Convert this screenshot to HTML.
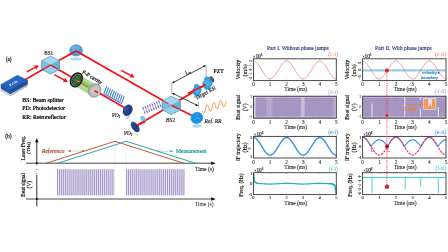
<!DOCTYPE html>
<html><head><meta charset="utf-8"><title>Figure</title>
<style>
html,body{margin:0;padding:0;background:#fff;}
body{width:448px;height:252px;overflow:hidden;}
svg{display:block;}
text{font-family:"Liberation Serif",serif;}
</style></head><body>
<svg width="448" height="252" viewBox="0 0 448 252">
<rect width="448" height="252" fill="#fff"/>
<text x="5.80" y="60.70" font-size="5.2" fill="#111" stroke="#111" stroke-width="0.2" text-anchor="start">(a)</text>
<line x1="25.00" y1="79.80" x2="50.60" y2="65.10" stroke="#f41212" stroke-width="1.7"/>
<line x1="50.60" y1="65.10" x2="76.10" y2="51.10" stroke="#f41212" stroke-width="1.7"/>
<line x1="76.10" y1="51.10" x2="171.30" y2="105.20" stroke="#f41212" stroke-width="1.7"/>
<line x1="50.60" y1="65.10" x2="76.50" y2="80.00" stroke="#f41212" stroke-width="1.7"/>
<line x1="94.50" y1="90.30" x2="125.50" y2="108.30" stroke="#f41212" stroke-width="1.7"/>
<line x1="171.30" y1="105.20" x2="206.50" y2="84.00" stroke="#f41212" stroke-width="1.7"/>
<line x1="171.30" y1="105.20" x2="192.00" y2="115.40" stroke="#f41212" stroke-width="1.7"/>
<line x1="171.30" y1="105.20" x2="136.00" y2="126.00" stroke="#f41212" stroke-width="1.7"/>
<line x1="26.70" y1="71.90" x2="35.63" y2="67.14" stroke="#f41212" stroke-width="1.5"/>
<polygon points="38.90,65.40 36.32,69.49 34.06,65.26" fill="#f41212" stroke="none" stroke-width="0.5"/>
<line x1="54.20" y1="74.70" x2="64.53" y2="80.17" stroke="#f41212" stroke-width="1.5"/>
<polygon points="67.80,81.90 62.97,82.06 65.21,77.81" fill="#f41212" stroke="none" stroke-width="0.5"/>
<line x1="121.10" y1="70.30" x2="131.33" y2="75.68" stroke="#f41212" stroke-width="1.5"/>
<polygon points="134.60,77.40 129.77,77.57 132.00,73.32" fill="#f41212" stroke="none" stroke-width="0.5"/>
<polygon points="0.40,88.60 10.20,94.60 10.20,96.60 0.40,90.80" fill="#cfcfcf" stroke="none" stroke-width="0.5"/>
<polygon points="10.20,94.60 27.60,84.40 27.60,86.40 10.20,96.60" fill="#bdbdbd" stroke="none" stroke-width="0.5"/>
<polygon points="1.00,84.40 17.40,75.20 27.60,80.20 10.20,89.80" fill="#2a65c2" stroke="#1b4c96" stroke-width="0.4"/>
<polygon points="10.20,89.80 27.60,80.20 27.60,84.20 10.20,94.00" fill="#1d4f9e" stroke="#17407e" stroke-width="0.4"/>
<polygon points="1.00,84.40 10.20,89.80 10.20,94.00 1.00,88.40" fill="#2159ad" stroke="#17407e" stroke-width="0.4"/>
<text x="14.00" y="84.00" font-size="2.8" fill="#ffffff" stroke="#ffffff" stroke-width="0.05" text-anchor="middle" font-weight="bold" transform="rotate(-29 14.00 84.00)">E C DL</text>
<polygon points="50.60,56.30 59.40,60.70 59.40,69.50 50.60,73.90 41.80,69.50 41.80,60.70" fill="#6fbfe0" stroke="#3f8db5" stroke-width="0.45"/>
<polygon points="50.60,56.30 59.40,60.70 50.60,65.10 41.80,60.70" fill="#a6d9ef" stroke="none" stroke-width="0.5"/>
<polygon points="50.60,65.10 59.40,69.50 50.60,73.90 41.80,69.50" fill="#93d0ea" stroke="none" stroke-width="0.5"/>
<polygon points="41.80,60.70 50.60,65.10 41.80,69.50" fill="#78c3e2" stroke="none" stroke-width="0.5"/>
<polygon points="59.40,60.70 50.60,65.10 59.40,69.50" fill="#62b6dc" stroke="none" stroke-width="0.5"/>
<polygon points="50.60,56.30 59.40,60.70 59.40,69.50 50.60,73.90 41.80,69.50 41.80,60.70" fill="none" stroke="#3f8db5" stroke-width="0.45"/>
<line x1="41.80" y1="60.70" x2="59.40" y2="69.50" stroke="#8a98a6" stroke-width="0.55"/>
<line x1="59.40" y1="60.70" x2="41.80" y2="69.50" stroke="#8a98a6" stroke-width="0.55"/>
<polygon points="171.30,96.40 180.30,100.90 180.30,109.90 171.30,114.40 162.30,109.90 162.30,100.90" fill="#6fbfe0" stroke="#3f8db5" stroke-width="0.45"/>
<polygon points="171.30,96.40 180.30,100.90 171.30,105.40 162.30,100.90" fill="#a6d9ef" stroke="none" stroke-width="0.5"/>
<polygon points="171.30,105.40 180.30,109.90 171.30,114.40 162.30,109.90" fill="#93d0ea" stroke="none" stroke-width="0.5"/>
<polygon points="162.30,100.90 171.30,105.40 162.30,109.90" fill="#78c3e2" stroke="none" stroke-width="0.5"/>
<polygon points="180.30,100.90 171.30,105.40 180.30,109.90" fill="#62b6dc" stroke="none" stroke-width="0.5"/>
<polygon points="171.30,96.40 180.30,100.90 180.30,109.90 171.30,114.40 162.30,109.90 162.30,100.90" fill="none" stroke="#3f8db5" stroke-width="0.45"/>
<line x1="162.30" y1="100.90" x2="180.30" y2="109.90" stroke="#8a98a6" stroke-width="0.55"/>
<line x1="180.30" y1="100.90" x2="162.30" y2="109.90" stroke="#8a98a6" stroke-width="0.55"/>
<line x1="41.80" y1="70.00" x2="50.60" y2="65.10" stroke="#f41212" stroke-width="1.3"/>
<line x1="50.60" y1="65.10" x2="58.10" y2="69.30" stroke="#f41212" stroke-width="1.3"/>
<line x1="171.30" y1="105.40" x2="179.30" y2="109.20" stroke="#f41212" stroke-width="1.3"/>
<line x1="162.30" y1="100.40" x2="168.30" y2="103.80" stroke="#f41212" stroke-width="1.1" opacity="0.8"/>
<text x="48.70" y="54.60" font-size="5.1" fill="#222" stroke="#222" stroke-width="0.15" text-anchor="middle">BS1</text>
<text x="170.50" y="122.30" font-size="5.3" fill="#222" stroke="#222" stroke-width="0.15" text-anchor="middle">BS2</text>
<ellipse cx="76.1" cy="58.9" rx="5.6" ry="1.5" fill="#b0d8f4"/>
<ellipse cx="76.1" cy="50.4" rx="6.4" ry="5.7" fill="#4b9fe3" stroke="#3378ba" stroke-width="0.45"/>
<ellipse cx="75.4" cy="48.6" rx="4.0" ry="2.8" fill="#72b8ee" opacity="0.6"/>
<line x1="68.00" y1="55.60" x2="76.10" y2="51.10" stroke="#f41212" stroke-width="1.7"/>
<line x1="76.10" y1="51.10" x2="84.00" y2="55.50" stroke="#f41212" stroke-width="1.7"/>
<polygon points="73.52,84.70 91.32,95.30 97.08,85.70 79.28,75.10" fill="#a9db93" stroke="#7bbf63" stroke-width="0.4"/>
<polygon points="75.82,80.86 93.62,91.46 95.64,88.10 77.84,77.50" fill="#8ccc74" stroke="none" stroke-width="0.5"/>
<line x1="76.40" y1="80.20" x2="88.00" y2="87.20" stroke="#e0682c" stroke-width="1.4"/>
<ellipse cx="76.4" cy="79.9" rx="5.4" ry="7.3" fill="#8a8a8a" stroke="#1a1a1a" stroke-width="1.5" transform="rotate(31.0 76.4 79.9)"/>
<ellipse cx="76.7" cy="80.10000000000001" rx="3.9" ry="5.4" fill="#346e34" stroke="#1a1a1a" stroke-width="0.5" transform="rotate(31.0 76.7 80.10000000000001)"/>
<line x1="76.40" y1="80.20" x2="79.90" y2="82.30" stroke="#e0682c" stroke-width="1.2"/>
<ellipse cx="94.60000000000001" cy="90.5" rx="6.1" ry="7.1" fill="#b4b4b4" stroke="#8c8c8c" stroke-width="0.6" transform="rotate(31.0 94.60000000000001 90.5)"/>
<ellipse cx="95.0" cy="90.7" rx="4.2" ry="5.2" fill="#c6c6c6" stroke="none" stroke-width="0.5" transform="rotate(31.0 95.0 90.7)"/>
<line x1="94.50" y1="90.80" x2="98.00" y2="92.60" stroke="#f41212" stroke-width="1.7"/>
<text x="81.80" y="73.20" font-size="5.4" fill="#111" stroke="#111" stroke-width="0.22" text-anchor="start" transform="rotate(30 81.80 73.20)">F-P cavity</text>
<line x1="103.90" y1="93.67" x2="106.70" y2="86.27" stroke="#1c6fd8" stroke-width="1.0"/>
<line x1="105.85" y1="94.77" x2="108.65" y2="87.37" stroke="#1c6fd8" stroke-width="1.0"/>
<line x1="107.80" y1="95.88" x2="110.60" y2="88.48" stroke="#1c6fd8" stroke-width="1.0"/>
<line x1="109.75" y1="96.98" x2="112.55" y2="89.58" stroke="#1c6fd8" stroke-width="1.0"/>
<line x1="111.70" y1="98.08" x2="114.50" y2="90.68" stroke="#1c6fd8" stroke-width="1.0"/>
<line x1="113.65" y1="99.19" x2="116.45" y2="91.79" stroke="#1c6fd8" stroke-width="1.0"/>
<line x1="115.60" y1="100.29" x2="118.40" y2="92.89" stroke="#1c6fd8" stroke-width="1.0"/>
<line x1="117.55" y1="101.39" x2="120.35" y2="93.99" stroke="#1c6fd8" stroke-width="1.0"/>
<line x1="119.50" y1="102.50" x2="122.30" y2="95.10" stroke="#1c6fd8" stroke-width="1.0"/>
<line x1="121.45" y1="103.60" x2="124.25" y2="96.20" stroke="#1c6fd8" stroke-width="1.0"/>
<line x1="103.60" y1="93.67" x2="121.75" y2="103.60" stroke="#1c6fd8" stroke-width="0.8"/>
<ellipse cx="127.9" cy="117.6" rx="3.0" ry="0.9" fill="#c8cfe0" transform="rotate(-25 127.9 117.6)"/>
<ellipse cx="127.7" cy="110.3" rx="4.4" ry="5.8" fill="#243f86" stroke="#1a2d60" stroke-width="0.4" transform="rotate(30 127.7 110.3)"/>
<ellipse cx="126.0" cy="109.0" rx="2.0" ry="2.8" fill="#3a5aa8" opacity="0.6" transform="rotate(30 126 109)"/>
<text x="112.00" y="117.20" font-size="5.3" fill="#222" stroke="#222" stroke-width="0.15" text-anchor="start">PD<tspan font-size="3.2" dy="1">1</tspan></text>
<ellipse cx="136.4" cy="134.6" rx="2.2" ry="0.6" fill="#c8cfe0" transform="rotate(35 136.4 134.6)"/>
<ellipse cx="135.2" cy="127.0" rx="3.1" ry="5.8" fill="#243f86" stroke="#1a2d60" stroke-width="0.4" transform="rotate(-35 135.2 127)"/>
<text x="124.00" y="135.30" font-size="5.3" fill="#222" stroke="#222" stroke-width="0.15" text-anchor="start">PD<tspan font-size="3.2" dy="1">2</tspan></text>
<ellipse cx="143.1" cy="118.9" rx="2.3" ry="3.4" fill="#72c4e8" transform="rotate(-35 143.1 118.9)"/>
<ellipse cx="144.6" cy="123.4" rx="2.2" ry="0.8" fill="#a8d8f0" transform="rotate(-25 144.6 123.4)"/>
<line x1="145.30" y1="121.30" x2="137.00" y2="125.40" stroke="#f41212" stroke-width="1.7"/>
<line x1="142.90" y1="107.40" x2="145.10" y2="113.40" stroke="#b4a8e2" stroke-width="1.05" stroke-linecap="round"/>
<line x1="142.96" y1="107.55" x2="143.40" y2="108.75" stroke="#6f60bd" stroke-width="0.9" stroke-linecap="round"/>
<line x1="145.04" y1="113.25" x2="144.60" y2="112.05" stroke="#6f60bd" stroke-width="0.9" stroke-linecap="round"/>
<line x1="145.16" y1="106.46" x2="147.36" y2="112.46" stroke="#b4a8e2" stroke-width="1.05" stroke-linecap="round"/>
<line x1="145.21" y1="106.61" x2="145.65" y2="107.81" stroke="#6f60bd" stroke-width="0.9" stroke-linecap="round"/>
<line x1="147.30" y1="112.31" x2="146.86" y2="111.11" stroke="#6f60bd" stroke-width="0.9" stroke-linecap="round"/>
<line x1="147.41" y1="105.51" x2="149.61" y2="111.51" stroke="#b4a8e2" stroke-width="1.05" stroke-linecap="round"/>
<line x1="147.47" y1="105.66" x2="147.91" y2="106.86" stroke="#6f60bd" stroke-width="0.9" stroke-linecap="round"/>
<line x1="149.56" y1="111.36" x2="149.12" y2="110.16" stroke="#6f60bd" stroke-width="0.9" stroke-linecap="round"/>
<line x1="149.67" y1="104.57" x2="151.87" y2="110.57" stroke="#b4a8e2" stroke-width="1.05" stroke-linecap="round"/>
<line x1="149.73" y1="104.72" x2="150.17" y2="105.92" stroke="#6f60bd" stroke-width="0.9" stroke-linecap="round"/>
<line x1="151.82" y1="110.42" x2="151.38" y2="109.22" stroke="#6f60bd" stroke-width="0.9" stroke-linecap="round"/>
<line x1="151.93" y1="103.63" x2="154.13" y2="109.63" stroke="#b4a8e2" stroke-width="1.05" stroke-linecap="round"/>
<line x1="151.98" y1="103.78" x2="152.42" y2="104.98" stroke="#6f60bd" stroke-width="0.9" stroke-linecap="round"/>
<line x1="154.07" y1="109.48" x2="153.63" y2="108.28" stroke="#6f60bd" stroke-width="0.9" stroke-linecap="round"/>
<line x1="154.19" y1="102.69" x2="156.39" y2="108.69" stroke="#b4a8e2" stroke-width="1.05" stroke-linecap="round"/>
<line x1="154.24" y1="102.84" x2="154.68" y2="104.04" stroke="#6f60bd" stroke-width="0.9" stroke-linecap="round"/>
<line x1="156.33" y1="108.54" x2="155.89" y2="107.34" stroke="#6f60bd" stroke-width="0.9" stroke-linecap="round"/>
<line x1="156.44" y1="101.74" x2="158.64" y2="107.74" stroke="#b4a8e2" stroke-width="1.05" stroke-linecap="round"/>
<line x1="156.50" y1="101.89" x2="156.94" y2="103.09" stroke="#6f60bd" stroke-width="0.9" stroke-linecap="round"/>
<line x1="158.59" y1="107.59" x2="158.15" y2="106.39" stroke="#6f60bd" stroke-width="0.9" stroke-linecap="round"/>
<line x1="158.70" y1="100.80" x2="160.90" y2="106.80" stroke="#b4a8e2" stroke-width="1.05" stroke-linecap="round"/>
<line x1="158.76" y1="100.95" x2="159.20" y2="102.15" stroke="#6f60bd" stroke-width="0.9" stroke-linecap="round"/>
<line x1="160.84" y1="106.65" x2="160.41" y2="105.45" stroke="#6f60bd" stroke-width="0.9" stroke-linecap="round"/>
<line x1="171.80" y1="83.20" x2="171.80" y2="93.80" stroke="#555" stroke-width="0.45"/>
<line x1="206.10" y1="65.30" x2="206.10" y2="77.50" stroke="#555" stroke-width="0.45"/>
<line x1="188.90" y1="74.20" x2="173.76" y2="82.22" stroke="#111" stroke-width="0.75"/>
<polygon points="171.90,83.20 173.61,80.88 174.78,83.09" fill="#111" stroke="none" stroke-width="0.5"/>
<line x1="188.90" y1="74.20" x2="204.14" y2="66.27" stroke="#111" stroke-width="0.75"/>
<polygon points="206.00,65.30 204.27,67.61 203.12,65.39" fill="#111" stroke="none" stroke-width="0.5"/>
<line x1="185.00" y1="99.40" x2="173.78" y2="93.83" stroke="#111" stroke-width="0.75"/>
<polygon points="171.90,92.90 174.78,92.94 173.67,95.18" fill="#111" stroke="none" stroke-width="0.5"/>
<line x1="185.00" y1="99.40" x2="196.32" y2="104.97" stroke="#111" stroke-width="0.75"/>
<polygon points="198.20,105.90 195.32,105.87 196.42,103.63" fill="#111" stroke="none" stroke-width="0.5"/>
<line x1="198.40" y1="102.00" x2="198.40" y2="107.50" stroke="#555" stroke-width="0.45"/>
<text x="188.60" y="73.60" font-size="5.2" fill="#222" stroke="#222" stroke-width="0.15" text-anchor="middle" transform="rotate(-27 188.60 73.60)">L<tspan font-size="3" dy="0.8">m</tspan></text>
<ellipse cx="211.6" cy="79.4" rx="2.2" ry="3.4" fill="#555" transform="rotate(-30 211.6 79.4)"/>
<ellipse cx="195.40" cy="91.20" rx="3.60" ry="4.60" fill="#2aa0ea" transform="rotate(-30 197.00 90.00)"/>
<ellipse cx="198.30" cy="89.20" rx="3.40" ry="5.00" fill="#2aa0ea" transform="rotate(-30 197.00 90.00)"/>
<ellipse cx="196.80" cy="90.00" rx="2.20" ry="3.00" fill="#6cc0f2" opacity="0.6" transform="rotate(-30 197.00 90.00)"/>
<ellipse cx="205.67" cy="84.30" rx="3.89" ry="4.97" fill="#2aa0ea" transform="rotate(-30 207.40 83.00)"/>
<ellipse cx="208.80" cy="82.14" rx="3.67" ry="5.40" fill="#2aa0ea" transform="rotate(-30 207.40 83.00)"/>
<ellipse cx="207.20" cy="83.00" rx="2.38" ry="3.24" fill="#6cc0f2" opacity="0.6" transform="rotate(-30 207.40 83.00)"/>
<line x1="188.00" y1="93.60" x2="205.80" y2="84.60" stroke="#f41212" stroke-width="1.7"/>
<line x1="190.00" y1="92.60" x2="205.80" y2="84.60" stroke="#d03040" stroke-width="0.6" opacity="0.5"/>
<text x="213.40" y="73.10" font-size="5.3" fill="#222" stroke="#222" stroke-width="0.1" text-anchor="start" font-weight="bold">PZT</text>
<text x="196.20" y="100.00" font-size="5.6" fill="#222" stroke="#222" stroke-width="0.15" text-anchor="start" transform="rotate(-29 196.20 100.00)">Target RR</text>
<ellipse cx="196.9" cy="126.0" rx="4.6" ry="1.7" fill="#a6daf5"/>
<ellipse cx="196.9" cy="117.9" rx="6.2" ry="5.7" fill="#1a8fe0" stroke="#4aa8ea" stroke-width="0.4" transform="rotate(-20 196.9 117.9)"/>
<line x1="196.90" y1="117.90" x2="194.00" y2="120.60" stroke="#7cc4f2" stroke-width="0.45"/>
<line x1="196.90" y1="117.90" x2="200.20" y2="119.20" stroke="#7cc4f2" stroke-width="0.45"/>
<line x1="196.90" y1="117.90" x2="197.60" y2="114.20" stroke="#7cc4f2" stroke-width="0.45"/>
<text x="204.60" y="123.20" font-size="5.5" fill="#222" stroke="#222" stroke-width="0.15" text-anchor="start" font-style="italic">Ref. RR</text>
<polyline points="202.30,110.91 202.45,111.36 202.60,111.78 202.74,112.17 202.89,112.52 203.04,112.81 203.19,113.05 203.34,113.22 203.49,113.33 203.63,113.36 203.78,113.32 203.93,113.21 204.08,113.03 204.23,112.79 204.37,112.47 204.52,112.10 204.67,111.68 204.82,111.20 204.97,110.69 205.11,110.16 205.26,109.60 205.41,109.03 205.56,108.46 205.71,107.90 205.86,107.36 206.00,106.85 206.15,106.38 206.30,105.96 206.45,105.58 206.60,105.27 206.74,105.02 206.89,104.84 207.04,104.72 207.19,104.69 207.34,104.72 207.48,104.82 207.63,104.99 207.78,105.23 207.93,105.52 208.08,105.86 208.23,106.25 208.37,106.68 208.52,107.13 208.67,107.60 208.82,108.07 208.97,108.55 209.11,109.01 209.26,109.45 209.41,109.86 209.56,110.24 209.71,110.56 209.85,110.83 210.00,111.04 210.15,111.18 210.30,111.26 210.45,111.26 210.59,111.19 210.74,111.05 210.89,110.84 211.04,110.57 211.19,110.23 211.34,109.83 211.48,109.39 211.63,108.90 211.78,108.37 211.93,107.83 212.08,107.26 212.22,106.69 212.37,106.13 212.52,105.58 212.67,105.05 212.82,104.55 212.97,104.10 213.11,103.70 213.26,103.35 213.41,103.06 213.56,102.84 213.71,102.69 213.85,102.61 214.00,102.60 214.15,102.66 214.30,102.79 214.45,102.99 214.59,103.25 214.74,103.57 214.89,103.93 215.04,104.34 215.19,104.77 215.34,105.24 215.48,105.71 215.63,106.19 215.78,106.66 215.93,107.11 216.08,107.54 216.22,107.94 216.37,108.29 216.52,108.59 216.67,108.83 216.82,109.02 216.96,109.13 217.11,109.18 217.26,109.15 217.41,109.05 217.56,108.88 217.71,108.64 217.85,108.34 218.00,107.97 218.15,107.55 218.30,107.09 218.45,106.58 218.59,106.05 218.74,105.49 218.89,104.92 219.04,104.36 219.19,103.80 219.33,103.25 219.48,102.74 219.63,102.26 219.78,101.83 219.93,101.45 220.07,101.12 220.22,100.86 220.37,100.67 220.52,100.55 220.67,100.50 220.82,100.52 220.96,100.62 221.11,100.78 221.26,101.01 221.41,101.29 221.56,101.63 221.70,102.01 221.85,102.43 222.00,102.88 222.15,103.35 222.30,103.82 222.44,104.30 222.59,104.76 222.74,105.21 222.89,105.62 223.04,106.00 223.19,106.33 223.33,106.61 223.48,106.83 223.63,106.98 223.78,107.07 223.93,107.08 224.07,107.02 224.22,106.89 224.37,106.69 224.52,106.42 224.67,106.09 224.81,105.70 224.96,105.27 225.11,104.78 225.26,104.26 225.41,103.72 225.56,103.16 225.70,102.59 225.85,102.02 226.00,101.47" fill="none" stroke="#f08c28" stroke-width="0.95" stroke-linejoin="round"/>
<text x="22.30" y="101.70" font-size="5.8" fill="#000" stroke="#000" stroke-width="0.22" text-anchor="start">BS:  Beam splitter</text>
<text x="22.30" y="110.20" font-size="5.8" fill="#000" stroke="#000" stroke-width="0.22" text-anchor="start">PD: Photodetector</text>
<text x="22.30" y="118.70" font-size="5.8" fill="#000" stroke="#000" stroke-width="0.22" text-anchor="start">RR: Retroreflector</text>
<text x="5.20" y="138.30" font-size="5.5" fill="#111" stroke="#111" stroke-width="0.2" text-anchor="start">(b)</text>
<line x1="36.80" y1="141.00" x2="36.80" y2="163.20" stroke="#1a1a1a" stroke-width="0.9"/>
<polygon points="36.80,138.00 35.00,142.20 38.60,142.20" fill="#111" stroke="none" stroke-width="0.5"/>
<line x1="36.80" y1="164.70" x2="36.80" y2="175.00" stroke="#333" stroke-width="0.8" stroke-dasharray="0.8 3.4"/>
<line x1="36.80" y1="175.00" x2="36.80" y2="206.40" stroke="#1a1a1a" stroke-width="0.9"/>
<line x1="26.00" y1="163.20" x2="212.00" y2="163.20" stroke="#333" stroke-width="0.9"/>
<polygon points="215.80,163.20 211.20,161.40 211.20,165.00" fill="#111" stroke="none" stroke-width="0.5"/>
<line x1="26.00" y1="199.00" x2="212.00" y2="199.00" stroke="#333" stroke-width="0.9"/>
<polygon points="215.80,199.00 211.20,197.20 211.20,200.80" fill="#111" stroke="none" stroke-width="0.5"/>
<circle cx="36.8" cy="163.2" r="1.0" fill="#000"/>
<circle cx="36.8" cy="199.0" r="1.0" fill="#000"/>
<line x1="115.00" y1="142.00" x2="115.00" y2="169.00" stroke="#aaa" stroke-width="0.4" stroke-dasharray="0.6 1"/>
<line x1="126.20" y1="142.00" x2="126.20" y2="169.00" stroke="#aaa" stroke-width="0.4" stroke-dasharray="0.6 1"/>
<rect x="57.0" y="169.2" width="57.80" height="26.2" fill="#e7e1ee"/>
<line x1="57.50" y1="169.20" x2="57.50" y2="195.40" stroke="#9688c4" stroke-width="0.85"/>
<line x1="59.55" y1="169.20" x2="59.55" y2="195.40" stroke="#9688c4" stroke-width="0.85"/>
<line x1="61.60" y1="169.20" x2="61.60" y2="195.40" stroke="#9688c4" stroke-width="0.85"/>
<line x1="63.65" y1="169.20" x2="63.65" y2="195.40" stroke="#9688c4" stroke-width="0.85"/>
<line x1="65.70" y1="169.20" x2="65.70" y2="195.40" stroke="#9688c4" stroke-width="0.85"/>
<line x1="67.75" y1="169.20" x2="67.75" y2="195.40" stroke="#9688c4" stroke-width="0.85"/>
<line x1="69.80" y1="169.20" x2="69.80" y2="195.40" stroke="#9688c4" stroke-width="0.85"/>
<line x1="71.85" y1="169.20" x2="71.85" y2="195.40" stroke="#9688c4" stroke-width="0.85"/>
<line x1="73.90" y1="169.20" x2="73.90" y2="195.40" stroke="#9688c4" stroke-width="0.85"/>
<line x1="75.95" y1="169.20" x2="75.95" y2="195.40" stroke="#9688c4" stroke-width="0.85"/>
<line x1="78.00" y1="169.20" x2="78.00" y2="195.40" stroke="#9688c4" stroke-width="0.85"/>
<line x1="80.05" y1="169.20" x2="80.05" y2="195.40" stroke="#9688c4" stroke-width="0.85"/>
<line x1="82.10" y1="169.20" x2="82.10" y2="195.40" stroke="#9688c4" stroke-width="0.85"/>
<line x1="84.15" y1="169.20" x2="84.15" y2="195.40" stroke="#9688c4" stroke-width="0.85"/>
<line x1="86.20" y1="169.20" x2="86.20" y2="195.40" stroke="#9688c4" stroke-width="0.85"/>
<line x1="88.25" y1="169.20" x2="88.25" y2="195.40" stroke="#9688c4" stroke-width="0.85"/>
<line x1="90.30" y1="169.20" x2="90.30" y2="195.40" stroke="#9688c4" stroke-width="0.85"/>
<line x1="92.35" y1="169.20" x2="92.35" y2="195.40" stroke="#9688c4" stroke-width="0.85"/>
<line x1="94.40" y1="169.20" x2="94.40" y2="195.40" stroke="#9688c4" stroke-width="0.85"/>
<line x1="96.45" y1="169.20" x2="96.45" y2="195.40" stroke="#9688c4" stroke-width="0.85"/>
<line x1="98.50" y1="169.20" x2="98.50" y2="195.40" stroke="#9688c4" stroke-width="0.85"/>
<line x1="100.55" y1="169.20" x2="100.55" y2="195.40" stroke="#9688c4" stroke-width="0.85"/>
<line x1="102.60" y1="169.20" x2="102.60" y2="195.40" stroke="#9688c4" stroke-width="0.85"/>
<line x1="104.65" y1="169.20" x2="104.65" y2="195.40" stroke="#9688c4" stroke-width="0.85"/>
<line x1="106.70" y1="169.20" x2="106.70" y2="195.40" stroke="#9688c4" stroke-width="0.85"/>
<line x1="108.75" y1="169.20" x2="108.75" y2="195.40" stroke="#9688c4" stroke-width="0.85"/>
<line x1="110.80" y1="169.20" x2="110.80" y2="195.40" stroke="#9688c4" stroke-width="0.85"/>
<line x1="112.85" y1="169.20" x2="112.85" y2="195.40" stroke="#9688c4" stroke-width="0.85"/>
<rect x="126.0" y="169.2" width="58.60" height="26.2" fill="#e7e1ee"/>
<line x1="126.50" y1="169.20" x2="126.50" y2="195.40" stroke="#9688c4" stroke-width="0.85"/>
<line x1="128.55" y1="169.20" x2="128.55" y2="195.40" stroke="#9688c4" stroke-width="0.85"/>
<line x1="130.60" y1="169.20" x2="130.60" y2="195.40" stroke="#9688c4" stroke-width="0.85"/>
<line x1="132.65" y1="169.20" x2="132.65" y2="195.40" stroke="#9688c4" stroke-width="0.85"/>
<line x1="134.70" y1="169.20" x2="134.70" y2="195.40" stroke="#9688c4" stroke-width="0.85"/>
<line x1="136.75" y1="169.20" x2="136.75" y2="195.40" stroke="#9688c4" stroke-width="0.85"/>
<line x1="138.80" y1="169.20" x2="138.80" y2="195.40" stroke="#9688c4" stroke-width="0.85"/>
<line x1="140.85" y1="169.20" x2="140.85" y2="195.40" stroke="#9688c4" stroke-width="0.85"/>
<line x1="142.90" y1="169.20" x2="142.90" y2="195.40" stroke="#9688c4" stroke-width="0.85"/>
<line x1="144.95" y1="169.20" x2="144.95" y2="195.40" stroke="#9688c4" stroke-width="0.85"/>
<line x1="147.00" y1="169.20" x2="147.00" y2="195.40" stroke="#9688c4" stroke-width="0.85"/>
<line x1="149.05" y1="169.20" x2="149.05" y2="195.40" stroke="#9688c4" stroke-width="0.85"/>
<line x1="151.10" y1="169.20" x2="151.10" y2="195.40" stroke="#9688c4" stroke-width="0.85"/>
<line x1="153.15" y1="169.20" x2="153.15" y2="195.40" stroke="#9688c4" stroke-width="0.85"/>
<line x1="155.20" y1="169.20" x2="155.20" y2="195.40" stroke="#9688c4" stroke-width="0.85"/>
<line x1="157.25" y1="169.20" x2="157.25" y2="195.40" stroke="#9688c4" stroke-width="0.85"/>
<line x1="159.30" y1="169.20" x2="159.30" y2="195.40" stroke="#9688c4" stroke-width="0.85"/>
<line x1="161.35" y1="169.20" x2="161.35" y2="195.40" stroke="#9688c4" stroke-width="0.85"/>
<line x1="163.40" y1="169.20" x2="163.40" y2="195.40" stroke="#9688c4" stroke-width="0.85"/>
<line x1="165.45" y1="169.20" x2="165.45" y2="195.40" stroke="#9688c4" stroke-width="0.85"/>
<line x1="167.50" y1="169.20" x2="167.50" y2="195.40" stroke="#9688c4" stroke-width="0.85"/>
<line x1="169.55" y1="169.20" x2="169.55" y2="195.40" stroke="#9688c4" stroke-width="0.85"/>
<line x1="171.60" y1="169.20" x2="171.60" y2="195.40" stroke="#9688c4" stroke-width="0.85"/>
<line x1="173.65" y1="169.20" x2="173.65" y2="195.40" stroke="#9688c4" stroke-width="0.85"/>
<line x1="175.70" y1="169.20" x2="175.70" y2="195.40" stroke="#9688c4" stroke-width="0.85"/>
<line x1="177.75" y1="169.20" x2="177.75" y2="195.40" stroke="#9688c4" stroke-width="0.85"/>
<line x1="179.80" y1="169.20" x2="179.80" y2="195.40" stroke="#9688c4" stroke-width="0.85"/>
<line x1="181.85" y1="169.20" x2="181.85" y2="195.40" stroke="#9688c4" stroke-width="0.85"/>
<line x1="183.90" y1="169.20" x2="183.90" y2="195.40" stroke="#9688c4" stroke-width="0.85"/>
<polyline points="46.30,163.20 115.00,141.30 183.60,163.20" fill="none" stroke="#bb5a38" stroke-width="1.0" stroke-linejoin="round"/>
<polyline points="57.80,163.20 126.20,141.30 195.40,163.20" fill="none" stroke="#27acac" stroke-width="1.0" stroke-linejoin="round"/>
<text x="41.80" y="152.90" font-size="5.75" fill="#a84e30" stroke="#a84e30" stroke-width="0.2" text-anchor="start" font-style="italic">Reference</text>
<line x1="70.00" y1="151.00" x2="82.60" y2="151.00" stroke="#b8573a" stroke-width="0.5" stroke-dasharray="1 0.7"/>
<polygon points="67.60,151.00 70.60,149.80 70.60,152.20" fill="#b8573a" stroke="none" stroke-width="0.5"/>
<circle cx="83.0" cy="151.0" r="0.9" fill="#b8573a"/>
<text x="176.10" y="153.20" font-size="5.6" fill="#1c9c9c" stroke="#1c9c9c" stroke-width="0.2" text-anchor="start">Measurement</text>
<line x1="158.60" y1="151.30" x2="170.40" y2="151.30" stroke="#2aa6a6" stroke-width="0.5" stroke-dasharray="1 0.7"/>
<polygon points="173.20,151.30 170.20,150.10 170.20,152.50" fill="#2aa6a6" stroke="none" stroke-width="0.5"/>
<circle cx="158.4" cy="151.3" r="0.9" fill="#2aa6a6"/>
<text x="195.00" y="170.80" font-size="5.55" fill="#222" stroke="#222" stroke-width="0.1" text-anchor="start">Time (s)</text>
<text x="194.90" y="206.40" font-size="5.5" fill="#333" stroke="#333" stroke-width="0.05" text-anchor="start">Time (s)</text>
<text x="24.60" y="148.20" font-size="5.4" fill="#111" stroke="#111" stroke-width="0.18" text-anchor="middle" transform="rotate(-90 24.60 148.20)">Laser Freq.</text>
<text x="30.20" y="147.90" font-size="5.0" fill="#111" stroke="#111" stroke-width="0.18" text-anchor="middle" transform="rotate(-90 30.20 147.90)">(THz)</text>
<text x="24.60" y="184.90" font-size="5.3" fill="#111" stroke="#111" stroke-width="0.18" text-anchor="middle" transform="rotate(-90 24.60 184.90)">Beat signal</text>
<text x="30.60" y="184.60" font-size="5.5" fill="#111" stroke="#111" stroke-width="0.18" text-anchor="middle" transform="rotate(-90 30.60 184.60)">(V)</text>
<text x="266.90" y="49.60" font-size="5.55" fill="#22367e" stroke="#22367e" stroke-width="0.14" text-anchor="start">Part I. Without phase jumps</text>
<text x="375.10" y="49.60" font-size="5.55" fill="#22367e" stroke="#22367e" stroke-width="0.14" text-anchor="start">Part II. With phase jumps</text>
<text x="338.00" y="55.90" font-size="5.7" fill="#e88a8a" stroke="#e88a8a" stroke-width="0.05" text-anchor="end">(c-i)</text>
<text x="446.30" y="55.90" font-size="5.7" fill="#e88a8a" stroke="#e88a8a" stroke-width="0.05" text-anchor="end">(c-ii)</text>
<text x="338.00" y="93.50" font-size="5.7" fill="#b3a8da" stroke="#b3a8da" stroke-width="0.05" text-anchor="end">(d-i)</text>
<text x="446.30" y="92.60" font-size="5.7" fill="#b3a8da" stroke="#b3a8da" stroke-width="0.05" text-anchor="end">(d-ii)</text>
<text x="338.00" y="133.60" font-size="5.7" fill="#3d9be9" stroke="#3d9be9" stroke-width="0.05" text-anchor="end">(e-i)</text>
<text x="446.30" y="133.60" font-size="5.7" fill="#3d9be9" stroke="#3d9be9" stroke-width="0.05" text-anchor="end">(e-ii)</text>
<text x="338.00" y="170.50" font-size="5.7" fill="#44cfc8" stroke="#44cfc8" stroke-width="0.05" text-anchor="end">(f-i)</text>
<text x="446.30" y="170.30" font-size="5.7" fill="#44cfc8" stroke="#44cfc8" stroke-width="0.05" text-anchor="end">(f-ii)</text>
<polyline points="253.50,61.05 253.78,61.06 254.05,61.10 254.33,61.16 254.60,61.24 254.88,61.35 255.16,61.49 255.43,61.64 255.71,61.82 255.98,62.02 256.26,62.24 256.54,62.49 256.81,62.75 257.09,63.03 257.36,63.34 257.64,63.66 257.92,63.99 258.19,64.35 258.47,64.72 258.74,65.10 259.02,65.50 259.30,65.91 259.57,66.33 259.85,66.76 260.12,67.20 260.40,67.65 260.68,68.10 260.95,68.56 261.23,69.02 261.50,69.48 261.78,69.95 262.06,70.42 262.33,70.88 262.61,71.34 262.88,71.80 263.16,72.25 263.44,72.70 263.71,73.14 263.99,73.57 264.26,73.99 264.54,74.40 264.82,74.80 265.09,75.18 265.37,75.55 265.64,75.91 265.92,76.24 266.20,76.56 266.47,76.87 266.75,77.15 267.02,77.41 267.30,77.66 267.58,77.88 267.85,78.08 268.13,78.26 268.40,78.41 268.68,78.55 268.96,78.66 269.23,78.74 269.51,78.80 269.78,78.84 270.06,78.85 270.34,78.84 270.61,78.80 270.89,78.74 271.16,78.66 271.44,78.55 271.72,78.41 271.99,78.26 272.27,78.08 272.54,77.88 272.82,77.66 273.10,77.41 273.37,77.15 273.65,76.87 273.92,76.56 274.20,76.24 274.48,75.91 274.75,75.55 275.03,75.18 275.30,74.80 275.58,74.40 275.86,73.99 276.13,73.57 276.41,73.14 276.68,72.70 276.96,72.25 277.24,71.80 277.51,71.34 277.79,70.88 278.06,70.42 278.34,69.95 278.62,69.48 278.89,69.02 279.17,68.56 279.44,68.10 279.72,67.65 280.00,67.20 280.27,66.76 280.55,66.33 280.82,65.91 281.10,65.50 281.38,65.10 281.65,64.72 281.93,64.35 282.20,63.99 282.48,63.66 282.76,63.34 283.03,63.03 283.31,62.75 283.58,62.49 283.86,62.24 284.14,62.02 284.41,61.82 284.69,61.64 284.96,61.49 285.24,61.35 285.52,61.24 285.79,61.16 286.07,61.10 286.34,61.06 286.62,61.05 286.90,61.06 287.17,61.10 287.45,61.16 287.72,61.24 288.00,61.35 288.28,61.49 288.55,61.64 288.83,61.82 289.10,62.02 289.38,62.24 289.66,62.49 289.93,62.75 290.21,63.03 290.48,63.34 290.76,63.66 291.04,63.99 291.31,64.35 291.59,64.72 291.86,65.10 292.14,65.50 292.42,65.91 292.69,66.33 292.97,66.76 293.24,67.20 293.52,67.65 293.80,68.10 294.07,68.56 294.35,69.02 294.62,69.48 294.90,69.95 295.18,70.42 295.45,70.88 295.73,71.34 296.00,71.80 296.28,72.25 296.56,72.70 296.83,73.14 297.11,73.57 297.38,73.99 297.66,74.40 297.94,74.80 298.21,75.18 298.49,75.55 298.76,75.91 299.04,76.24 299.32,76.56 299.59,76.87 299.87,77.15 300.14,77.41 300.42,77.66 300.70,77.88 300.97,78.08 301.25,78.26 301.52,78.41 301.80,78.55 302.08,78.66 302.35,78.74 302.63,78.80 302.90,78.84 303.18,78.85 303.46,78.84 303.73,78.80 304.01,78.74 304.28,78.66 304.56,78.55 304.84,78.41 305.11,78.26 305.39,78.08 305.66,77.88 305.94,77.66 306.22,77.41 306.49,77.15 306.77,76.87 307.04,76.56 307.32,76.24 307.60,75.91 307.87,75.55 308.15,75.18 308.42,74.80 308.70,74.40 308.98,73.99 309.25,73.57 309.53,73.14 309.80,72.70 310.08,72.25 310.36,71.80 310.63,71.34 310.91,70.88 311.18,70.42 311.46,69.95 311.74,69.48 312.01,69.02 312.29,68.56 312.56,68.10 312.84,67.65 313.12,67.20 313.39,66.76 313.67,66.33 313.94,65.91 314.22,65.50 314.50,65.10 314.77,64.72 315.05,64.35 315.32,63.99 315.60,63.66 315.88,63.34 316.15,63.03 316.43,62.75 316.70,62.49 316.98,62.24 317.26,62.02 317.53,61.82 317.81,61.64 318.08,61.49 318.36,61.35 318.64,61.24 318.91,61.16 319.19,61.10 319.46,61.06 319.74,61.05 320.02,61.06 320.29,61.10 320.57,61.16 320.84,61.24 321.12,61.35 321.40,61.49 321.67,61.64 321.95,61.82 322.22,62.02 322.50,62.24 322.78,62.49 323.05,62.75 323.33,63.03 323.60,63.34 323.88,63.66 324.16,63.99 324.43,64.35 324.71,64.72 324.98,65.10 325.26,65.50 325.54,65.91 325.81,66.33 326.09,66.76 326.36,67.20 326.64,67.65 326.92,68.10 327.19,68.56 327.47,69.02 327.74,69.48 328.02,69.95 328.30,70.42 328.57,70.88 328.85,71.34 329.12,71.80 329.40,72.25 329.68,72.70 329.95,73.14 330.23,73.57 330.50,73.99 330.78,74.40 331.06,74.80 331.33,75.18 331.61,75.55 331.88,75.91 332.16,76.24 332.44,76.56 332.71,76.87 332.99,77.15 333.26,77.41 333.54,77.66 333.82,77.88 334.09,78.08 334.37,78.26 334.64,78.41 334.92,78.55 335.20,78.66 335.47,78.74 335.75,78.80 336.02,78.84 336.30,78.85" fill="none" stroke="#e47e7e" stroke-width="0.8" stroke-linejoin="round"/>
<rect x="253.50" y="58.80" width="82.80" height="21.80" fill="none" stroke="#3a3a3a" stroke-width="0.9"/>
<line x1="253.50" y1="80.60" x2="253.50" y2="79.60" stroke="#3a3a3a" stroke-width="0.4"/>
<line x1="253.50" y1="58.80" x2="253.50" y2="59.80" stroke="#3a3a3a" stroke-width="0.4"/>
<line x1="270.06" y1="80.60" x2="270.06" y2="79.60" stroke="#3a3a3a" stroke-width="0.4"/>
<line x1="270.06" y1="58.80" x2="270.06" y2="59.80" stroke="#3a3a3a" stroke-width="0.4"/>
<line x1="286.62" y1="80.60" x2="286.62" y2="79.60" stroke="#3a3a3a" stroke-width="0.4"/>
<line x1="286.62" y1="58.80" x2="286.62" y2="59.80" stroke="#3a3a3a" stroke-width="0.4"/>
<line x1="303.18" y1="80.60" x2="303.18" y2="79.60" stroke="#3a3a3a" stroke-width="0.4"/>
<line x1="303.18" y1="58.80" x2="303.18" y2="59.80" stroke="#3a3a3a" stroke-width="0.4"/>
<line x1="319.74" y1="80.60" x2="319.74" y2="79.60" stroke="#3a3a3a" stroke-width="0.4"/>
<line x1="319.74" y1="58.80" x2="319.74" y2="59.80" stroke="#3a3a3a" stroke-width="0.4"/>
<line x1="336.30" y1="80.60" x2="336.30" y2="79.60" stroke="#3a3a3a" stroke-width="0.4"/>
<line x1="336.30" y1="58.80" x2="336.30" y2="59.80" stroke="#3a3a3a" stroke-width="0.4"/>
<text x="253.50" y="85.60" font-size="5.2" fill="#222" stroke="#222" stroke-width="0.08" text-anchor="middle">0</text>
<text x="270.06" y="85.60" font-size="5.2" fill="#222" stroke="#222" stroke-width="0.08" text-anchor="middle">1</text>
<text x="286.62" y="85.60" font-size="5.2" fill="#222" stroke="#222" stroke-width="0.08" text-anchor="middle">2</text>
<text x="303.18" y="85.60" font-size="5.2" fill="#222" stroke="#222" stroke-width="0.08" text-anchor="middle">3</text>
<text x="319.74" y="85.60" font-size="5.2" fill="#222" stroke="#222" stroke-width="0.08" text-anchor="middle">4</text>
<text x="336.30" y="85.60" font-size="5.2" fill="#222" stroke="#222" stroke-width="0.08" text-anchor="middle">5</text>
<text x="295.70" y="91.20" font-size="5.5" fill="#222" stroke="#222" stroke-width="0.08" text-anchor="middle">Time (ms)</text>
<text x="253.30" y="58.20" font-size="5.3" fill="#222" stroke="#222" stroke-width="0.15" text-anchor="start"><tspan font-size="3.8">×</tspan>10<tspan font-size="3.2" dy="-2.4">5</tspan></text>
<rect x="363.10" y="69.20" width="82.40" height="2.4" fill="#acd7ec"/>
<line x1="363.10" y1="70.40" x2="445.50" y2="70.40" stroke="#4f9fcc" stroke-width="0.6" stroke-dasharray="0.9 0.9"/>
<polyline points="362.60,61.05 362.88,61.06 363.16,61.10 363.43,61.16 363.71,61.24 363.99,61.35 364.27,61.49 364.55,61.64 364.82,61.82 365.10,62.02 365.38,62.24 365.66,62.49 365.94,62.75 366.21,63.03 366.49,63.34 366.77,63.66 367.05,63.99 367.33,64.35 367.60,64.72 367.88,65.10 368.16,65.50 368.44,65.91 368.72,66.33 368.99,66.76 369.27,67.20 369.55,67.65 369.83,68.10 370.11,68.56 370.38,69.02 370.66,69.48 370.94,69.95 371.22,70.42 371.50,70.88 371.77,71.34 372.05,71.80 372.33,72.25 372.61,72.70 372.89,73.14 373.16,73.57 373.44,73.99 373.72,74.40 374.00,74.80 374.28,75.18 374.55,75.55 374.83,75.91 375.11,76.24 375.39,76.56 375.67,76.87 375.94,77.15 376.22,77.41 376.50,77.66 376.78,77.88 377.06,78.08 377.33,78.26 377.61,78.41 377.89,78.55 378.17,78.66 378.45,78.74 378.72,78.80 379.00,78.84 379.28,78.85 379.56,78.84 379.84,78.80 380.11,78.74 380.39,78.66 380.67,78.55 380.95,78.41 381.23,78.26 381.50,78.08 381.78,77.88 382.06,77.66 382.34,77.41 382.62,77.15 382.89,76.87 383.17,76.56 383.45,76.24 383.73,75.91 384.01,75.55 384.28,75.18 384.56,74.80 384.84,74.40 385.12,73.99 385.40,73.57 385.67,73.14 385.95,72.70 386.23,72.25 386.51,71.80 386.79,71.34 387.06,70.88 387.34,70.42 387.62,69.95 387.90,69.48 388.18,69.02 388.45,68.56 388.73,68.10 389.01,67.65 389.29,67.20 389.57,66.76 389.84,66.33 390.12,65.91 390.40,65.50 390.68,65.10 390.96,64.72 391.23,64.35 391.51,63.99 391.79,63.66 392.07,63.34 392.35,63.03 392.62,62.75 392.90,62.49 393.18,62.24 393.46,62.02 393.74,61.82 394.01,61.64 394.29,61.49 394.57,61.35 394.85,61.24 395.13,61.16 395.40,61.10 395.68,61.06 395.96,61.05 396.24,61.06 396.52,61.10 396.79,61.16 397.07,61.24 397.35,61.35 397.63,61.49 397.91,61.64 398.18,61.82 398.46,62.02 398.74,62.24 399.02,62.49 399.30,62.75 399.57,63.03 399.85,63.34 400.13,63.66 400.41,63.99 400.69,64.35 400.96,64.72 401.24,65.10 401.52,65.50 401.80,65.91 402.08,66.33 402.35,66.76 402.63,67.20 402.91,67.65 403.19,68.10 403.47,68.56 403.74,69.02 404.02,69.48 404.30,69.95 404.58,70.42 404.86,70.88 405.13,71.34 405.41,71.80 405.69,72.25 405.97,72.70 406.25,73.14 406.52,73.57 406.80,73.99 407.08,74.40 407.36,74.80 407.64,75.18 407.91,75.55 408.19,75.91 408.47,76.24 408.75,76.56 409.03,76.87 409.30,77.15 409.58,77.41 409.86,77.66 410.14,77.88 410.42,78.08 410.69,78.26 410.97,78.41 411.25,78.55 411.53,78.66 411.81,78.74 412.08,78.80 412.36,78.84 412.64,78.85 412.92,78.84 413.20,78.80 413.47,78.74 413.75,78.66 414.03,78.55 414.31,78.41 414.59,78.26 414.86,78.08 415.14,77.88 415.42,77.66 415.70,77.41 415.98,77.15 416.25,76.87 416.53,76.56 416.81,76.24 417.09,75.91 417.37,75.55 417.64,75.18 417.92,74.80 418.20,74.40 418.48,73.99 418.76,73.57 419.03,73.14 419.31,72.70 419.59,72.25 419.87,71.80 420.15,71.34 420.42,70.88 420.70,70.42 420.98,69.95 421.26,69.48 421.54,69.02 421.81,68.56 422.09,68.10 422.37,67.65 422.65,67.20 422.93,66.76 423.20,66.33 423.48,65.91 423.76,65.50 424.04,65.10 424.32,64.72 424.59,64.35 424.87,63.99 425.15,63.66 425.43,63.34 425.71,63.03 425.98,62.75 426.26,62.49 426.54,62.24 426.82,62.02 427.10,61.82 427.37,61.64 427.65,61.49 427.93,61.35 428.21,61.24 428.49,61.16 428.76,61.10 429.04,61.06 429.32,61.05 429.60,61.06 429.88,61.10 430.15,61.16 430.43,61.24 430.71,61.35 430.99,61.49 431.27,61.64 431.54,61.82 431.82,62.02 432.10,62.24 432.38,62.49 432.66,62.75 432.93,63.03 433.21,63.34 433.49,63.66 433.77,63.99 434.05,64.35 434.32,64.72 434.60,65.10 434.88,65.50 435.16,65.91 435.44,66.33 435.71,66.76 435.99,67.20 436.27,67.65 436.55,68.10 436.83,68.56 437.10,69.02 437.38,69.48 437.66,69.95 437.94,70.42 438.22,70.88 438.49,71.34 438.77,71.80 439.05,72.25 439.33,72.70 439.61,73.14 439.88,73.57 440.16,73.99 440.44,74.40 440.72,74.80 441.00,75.18 441.27,75.55 441.55,75.91 441.83,76.24 442.11,76.56 442.39,76.87 442.66,77.15 442.94,77.41 443.22,77.66 443.50,77.88 443.78,78.08 444.05,78.26 444.33,78.41 444.61,78.55 444.89,78.66 445.17,78.74 445.44,78.80 445.72,78.84 446.00,78.85" fill="none" stroke="#e47e7e" stroke-width="0.8" stroke-linejoin="round"/>
<rect x="362.60" y="58.80" width="83.40" height="21.80" fill="none" stroke="#3a3a3a" stroke-width="0.9"/>
<line x1="362.60" y1="80.60" x2="362.60" y2="79.60" stroke="#3a3a3a" stroke-width="0.4"/>
<line x1="362.60" y1="58.80" x2="362.60" y2="59.80" stroke="#3a3a3a" stroke-width="0.4"/>
<line x1="379.28" y1="80.60" x2="379.28" y2="79.60" stroke="#3a3a3a" stroke-width="0.4"/>
<line x1="379.28" y1="58.80" x2="379.28" y2="59.80" stroke="#3a3a3a" stroke-width="0.4"/>
<line x1="395.96" y1="80.60" x2="395.96" y2="79.60" stroke="#3a3a3a" stroke-width="0.4"/>
<line x1="395.96" y1="58.80" x2="395.96" y2="59.80" stroke="#3a3a3a" stroke-width="0.4"/>
<line x1="412.64" y1="80.60" x2="412.64" y2="79.60" stroke="#3a3a3a" stroke-width="0.4"/>
<line x1="412.64" y1="58.80" x2="412.64" y2="59.80" stroke="#3a3a3a" stroke-width="0.4"/>
<line x1="429.32" y1="80.60" x2="429.32" y2="79.60" stroke="#3a3a3a" stroke-width="0.4"/>
<line x1="429.32" y1="58.80" x2="429.32" y2="59.80" stroke="#3a3a3a" stroke-width="0.4"/>
<line x1="446.00" y1="80.60" x2="446.00" y2="79.60" stroke="#3a3a3a" stroke-width="0.4"/>
<line x1="446.00" y1="58.80" x2="446.00" y2="59.80" stroke="#3a3a3a" stroke-width="0.4"/>
<text x="362.60" y="85.60" font-size="5.2" fill="#222" stroke="#222" stroke-width="0.08" text-anchor="middle">0</text>
<text x="379.28" y="85.60" font-size="5.2" fill="#222" stroke="#222" stroke-width="0.08" text-anchor="middle">1</text>
<text x="395.96" y="85.60" font-size="5.2" fill="#222" stroke="#222" stroke-width="0.08" text-anchor="middle">2</text>
<text x="412.64" y="85.60" font-size="5.2" fill="#222" stroke="#222" stroke-width="0.08" text-anchor="middle">3</text>
<text x="429.32" y="85.60" font-size="5.2" fill="#222" stroke="#222" stroke-width="0.08" text-anchor="middle">4</text>
<text x="446.00" y="85.60" font-size="5.2" fill="#222" stroke="#222" stroke-width="0.08" text-anchor="middle">5</text>
<text x="405.10" y="91.20" font-size="5.5" fill="#222" stroke="#222" stroke-width="0.08" text-anchor="middle">Time (ms)</text>
<text x="362.40" y="58.20" font-size="5.3" fill="#222" stroke="#222" stroke-width="0.15" text-anchor="start"><tspan font-size="3.8">×</tspan>10<tspan font-size="3.2" dy="-2.4">5</tspan></text>
<text x="240.30" y="69.70" font-size="5.9" fill="#222" stroke="#222" stroke-width="0.15" text-anchor="middle" transform="rotate(-90 240.30 69.70)">Velocity</text>
<text x="247.30" y="70.40" font-size="5.8" fill="#222" stroke="#222" stroke-width="0.15" text-anchor="middle" transform="rotate(-90 247.30 70.40)">(m/s)</text>
<text x="349.30" y="69.70" font-size="5.9" fill="#222" stroke="#222" stroke-width="0.15" text-anchor="middle" transform="rotate(-90 349.30 69.70)">Velocity</text>
<text x="356.40" y="70.40" font-size="5.8" fill="#222" stroke="#222" stroke-width="0.15" text-anchor="middle" transform="rotate(-90 356.40 70.40)">(m/s)</text>
<text x="251.80" y="60.95" font-size="3.2" fill="#333" stroke="#333" stroke-width="0.15" text-anchor="middle" transform="rotate(-90 251.80 60.95)">2</text>
<text x="251.80" y="65.25" font-size="3.2" fill="#333" stroke="#333" stroke-width="0.15" text-anchor="middle" transform="rotate(-90 251.80 65.25)">1</text>
<text x="251.80" y="69.55" font-size="3.2" fill="#333" stroke="#333" stroke-width="0.15" text-anchor="middle" transform="rotate(-90 251.80 69.55)">0</text>
<text x="251.80" y="73.85" font-size="3.2" fill="#333" stroke="#333" stroke-width="0.15" text-anchor="middle" transform="rotate(-90 251.80 73.85)">-1</text>
<text x="251.80" y="78.15" font-size="3.2" fill="#333" stroke="#333" stroke-width="0.15" text-anchor="middle" transform="rotate(-90 251.80 78.15)">-2</text>
<text x="361.20" y="62.80" font-size="4.0" fill="#333" stroke="#333" stroke-width="0.15" text-anchor="middle" transform="rotate(-90 361.20 62.80)">5</text>
<text x="361.20" y="69.70" font-size="4.0" fill="#333" stroke="#333" stroke-width="0.15" text-anchor="middle" transform="rotate(-90 361.20 69.70)">0</text>
<text x="361.20" y="77.00" font-size="4.0" fill="#333" stroke="#333" stroke-width="0.15" text-anchor="middle" transform="rotate(-90 361.20 77.00)">-5</text>
<text x="429.50" y="74.40" font-size="4.6" fill="#1f78b4" stroke="#1f78b4" stroke-width="0.15" text-anchor="middle">velocity</text>
<text x="429.50" y="78.60" font-size="4.6" fill="#1f78b4" stroke="#1f78b4" stroke-width="0.15" text-anchor="middle">boundary</text>
<circle cx="438.6" cy="73.0" r="0.9" fill="#1f5fa0"/>
<circle cx="386.9" cy="70.4" r="2.0" fill="#e0202a"/>
<defs><linearGradient id="st" x1="0" x2="1" y1="0" y2="0"><stop offset="0" stop-color="#ffffff" stop-opacity="0"/><stop offset="0.5" stop-color="#ffffff" stop-opacity="0.55"/><stop offset="1" stop-color="#ffffff" stop-opacity="0"/></linearGradient></defs>
<rect x="253.50" y="96.20" width="82.80" height="22.00" fill="#a595c0"/>
<rect x="253.50" y="96.80" width="82.80" height="1.3" fill="#c4b8de" opacity="0.8"/>
<rect x="253.50" y="116.20" width="82.80" height="1.3" fill="#c4b8de" opacity="0.8"/>
<line x1="267.58" y1="96.70" x2="267.58" y2="117.70" stroke="#ffffff" stroke-width="0.5176916901183807" opacity="0.28"/>
<line x1="268.43" y1="96.70" x2="268.43" y2="117.70" stroke="#ffffff" stroke-width="0.5415680154384778" opacity="0.34"/>
<line x1="270.06" y1="96.70" x2="270.06" y2="117.70" stroke="#ffffff" stroke-width="0.32621154369592525" opacity="0.34"/>
<line x1="266.14" y1="96.70" x2="266.14" y2="117.70" stroke="#ffffff" stroke-width="0.634987632838584" opacity="0.19"/>
<line x1="267.72" y1="96.70" x2="267.72" y2="117.70" stroke="#ffffff" stroke-width="0.3937323844186785" opacity="0.29"/>
<line x1="272.43" y1="96.70" x2="272.43" y2="117.70" stroke="#ffffff" stroke-width="0.48810540300897914" opacity="0.18"/>
<line x1="271.41" y1="96.70" x2="271.41" y2="117.70" stroke="#ffffff" stroke-width="0.4905412834797339" opacity="0.25"/>
<line x1="270.15" y1="96.70" x2="270.15" y2="117.70" stroke="#ffffff" stroke-width="0.36024656960940954" opacity="0.34"/>
<line x1="270.12" y1="96.70" x2="270.12" y2="117.70" stroke="#ffffff" stroke-width="0.6472181228573186" opacity="0.34"/>
<line x1="302.53" y1="96.70" x2="302.53" y2="117.70" stroke="#ffffff" stroke-width="0.5965007424805961" opacity="0.39"/>
<line x1="303.48" y1="96.70" x2="303.48" y2="117.70" stroke="#ffffff" stroke-width="0.3256125752907989" opacity="0.32"/>
<line x1="304.03" y1="96.70" x2="304.03" y2="117.70" stroke="#ffffff" stroke-width="0.536439833172527" opacity="0.29"/>
<line x1="301.11" y1="96.70" x2="301.11" y2="117.70" stroke="#ffffff" stroke-width="0.3124047005879" opacity="0.31"/>
<line x1="304.72" y1="96.70" x2="304.72" y2="117.70" stroke="#ffffff" stroke-width="0.48909963546618673" opacity="0.24"/>
<line x1="303.78" y1="96.70" x2="303.78" y2="117.70" stroke="#ffffff" stroke-width="0.6515251201021927" opacity="0.30"/>
<line x1="303.75" y1="96.70" x2="303.75" y2="117.70" stroke="#ffffff" stroke-width="0.6684394670335497" opacity="0.31"/>
<line x1="301.71" y1="96.70" x2="301.71" y2="117.70" stroke="#ffffff" stroke-width="0.6203635083940913" opacity="0.35"/>
<line x1="302.03" y1="96.70" x2="302.03" y2="117.70" stroke="#ffffff" stroke-width="0.6742346886818084" opacity="0.38"/>
<line x1="255.49" y1="96.70" x2="255.49" y2="117.70" stroke="#ffffff" stroke-width="0.3389817238923509" opacity="0.23"/>
<line x1="253.26" y1="96.70" x2="253.26" y2="117.70" stroke="#ffffff" stroke-width="0.3867947764932549" opacity="0.24"/>
<line x1="255.75" y1="96.70" x2="255.75" y2="117.70" stroke="#ffffff" stroke-width="0.4744647466509717" opacity="0.20"/>
<line x1="254.74" y1="96.70" x2="254.74" y2="117.70" stroke="#ffffff" stroke-width="0.42041047937020215" opacity="0.34"/>
<line x1="254.38" y1="96.70" x2="254.38" y2="117.70" stroke="#ffffff" stroke-width="0.454346503537961" opacity="0.40"/>
<line x1="253.91" y1="96.70" x2="253.91" y2="117.70" stroke="#ffffff" stroke-width="0.5340296429621454" opacity="0.33"/>
<line x1="254.61" y1="96.70" x2="254.61" y2="117.70" stroke="#ffffff" stroke-width="0.66168070833911" opacity="0.36"/>
<line x1="254.90" y1="96.70" x2="254.90" y2="117.70" stroke="#ffffff" stroke-width="0.6715782404800068" opacity="0.32"/>
<line x1="255.43" y1="96.70" x2="255.43" y2="117.70" stroke="#ffffff" stroke-width="0.696395857947526" opacity="0.24"/>
<line x1="335.19" y1="96.70" x2="335.19" y2="117.70" stroke="#ffffff" stroke-width="0.36523984878842786" opacity="0.32"/>
<line x1="335.75" y1="96.70" x2="335.75" y2="117.70" stroke="#ffffff" stroke-width="0.6858531789236245" opacity="0.24"/>
<line x1="335.89" y1="96.70" x2="335.89" y2="117.70" stroke="#ffffff" stroke-width="0.5276430013897293" opacity="0.22"/>
<line x1="335.31" y1="96.70" x2="335.31" y2="117.70" stroke="#ffffff" stroke-width="0.3844499934702393" opacity="0.31"/>
<line x1="335.67" y1="96.70" x2="335.67" y2="117.70" stroke="#ffffff" stroke-width="0.5294129409405138" opacity="0.25"/>
<line x1="334.03" y1="96.70" x2="334.03" y2="117.70" stroke="#ffffff" stroke-width="0.3253842308580917" opacity="0.31"/>
<line x1="335.73" y1="96.70" x2="335.73" y2="117.70" stroke="#ffffff" stroke-width="0.6959224059686324" opacity="0.24"/>
<line x1="333.44" y1="96.70" x2="333.44" y2="117.70" stroke="#ffffff" stroke-width="0.6202381285030008" opacity="0.22"/>
<line x1="334.40" y1="96.70" x2="334.40" y2="117.70" stroke="#ffffff" stroke-width="0.3603061497811238" opacity="0.36"/>
<rect x="253.50" y="96.20" width="82.80" height="22.00" fill="none" stroke="#3a3a3a" stroke-width="0.9"/>
<line x1="253.50" y1="118.20" x2="253.50" y2="117.20" stroke="#3a3a3a" stroke-width="0.4"/>
<line x1="253.50" y1="96.20" x2="253.50" y2="97.20" stroke="#3a3a3a" stroke-width="0.4"/>
<line x1="270.06" y1="118.20" x2="270.06" y2="117.20" stroke="#3a3a3a" stroke-width="0.4"/>
<line x1="270.06" y1="96.20" x2="270.06" y2="97.20" stroke="#3a3a3a" stroke-width="0.4"/>
<line x1="286.62" y1="118.20" x2="286.62" y2="117.20" stroke="#3a3a3a" stroke-width="0.4"/>
<line x1="286.62" y1="96.20" x2="286.62" y2="97.20" stroke="#3a3a3a" stroke-width="0.4"/>
<line x1="303.18" y1="118.20" x2="303.18" y2="117.20" stroke="#3a3a3a" stroke-width="0.4"/>
<line x1="303.18" y1="96.20" x2="303.18" y2="97.20" stroke="#3a3a3a" stroke-width="0.4"/>
<line x1="319.74" y1="118.20" x2="319.74" y2="117.20" stroke="#3a3a3a" stroke-width="0.4"/>
<line x1="319.74" y1="96.20" x2="319.74" y2="97.20" stroke="#3a3a3a" stroke-width="0.4"/>
<line x1="336.30" y1="118.20" x2="336.30" y2="117.20" stroke="#3a3a3a" stroke-width="0.4"/>
<line x1="336.30" y1="96.20" x2="336.30" y2="97.20" stroke="#3a3a3a" stroke-width="0.4"/>
<text x="253.50" y="124.00" font-size="5.2" fill="#222" stroke="#222" stroke-width="0.08" text-anchor="middle">0</text>
<text x="270.06" y="124.00" font-size="5.2" fill="#222" stroke="#222" stroke-width="0.08" text-anchor="middle">1</text>
<text x="286.62" y="124.00" font-size="5.2" fill="#222" stroke="#222" stroke-width="0.08" text-anchor="middle">2</text>
<text x="303.18" y="124.00" font-size="5.2" fill="#222" stroke="#222" stroke-width="0.08" text-anchor="middle">3</text>
<text x="319.74" y="124.00" font-size="5.2" fill="#222" stroke="#222" stroke-width="0.08" text-anchor="middle">4</text>
<text x="336.30" y="124.00" font-size="5.2" fill="#222" stroke="#222" stroke-width="0.08" text-anchor="middle">5</text>
<text x="295.70" y="129.20" font-size="5.5" fill="#222" stroke="#222" stroke-width="0.08" text-anchor="middle">Time (ms)</text>
<rect x="362.60" y="96.20" width="83.40" height="22.00" fill="#a595c0"/>
<rect x="362.60" y="96.80" width="83.40" height="1.3" fill="#c4b8de" opacity="0.8"/>
<rect x="362.60" y="116.20" width="83.40" height="1.3" fill="#c4b8de" opacity="0.8"/>
<line x1="372.00" y1="103.50" x2="372.00" y2="117.00" stroke="#f4f0fa" stroke-width="0.9"/>
<line x1="404.80" y1="97.00" x2="404.80" y2="117.00" stroke="#f4f0fa" stroke-width="0.9"/>
<line x1="420.30" y1="97.00" x2="420.30" y2="100.00" stroke="#f4f0fa" stroke-width="0.9"/>
<line x1="420.30" y1="108.50" x2="420.30" y2="117.00" stroke="#f4f0fa" stroke-width="0.9"/>
<line x1="438.30" y1="107.00" x2="438.30" y2="117.00" stroke="#f4f0fa" stroke-width="0.9"/>
<rect x="423.3" y="98.2" width="12.9" height="11.4" fill="#e9e4f2"/>
<rect x="424.1" y="99.0" width="11.3" height="9.8" fill="#f0883a"/>
<line x1="424.90" y1="99.20" x2="424.90" y2="108.60" stroke="#f7b98c" stroke-width="0.35"/>
<line x1="425.65" y1="99.20" x2="425.65" y2="108.60" stroke="#f7b98c" stroke-width="0.35"/>
<line x1="426.40" y1="99.20" x2="426.40" y2="108.60" stroke="#f7b98c" stroke-width="0.35"/>
<line x1="427.15" y1="99.20" x2="427.15" y2="108.60" stroke="#f7b98c" stroke-width="0.35"/>
<line x1="427.90" y1="99.20" x2="427.90" y2="108.60" stroke="#f7b98c" stroke-width="0.35"/>
<line x1="428.65" y1="99.20" x2="428.65" y2="108.60" stroke="#f7b98c" stroke-width="0.35"/>
<line x1="432.20" y1="99.20" x2="432.20" y2="108.60" stroke="#f7b98c" stroke-width="0.35"/>
<line x1="432.95" y1="99.20" x2="432.95" y2="108.60" stroke="#f7b98c" stroke-width="0.35"/>
<line x1="433.70" y1="99.20" x2="433.70" y2="108.60" stroke="#f7b98c" stroke-width="0.35"/>
<line x1="434.45" y1="99.20" x2="434.45" y2="108.60" stroke="#f7b98c" stroke-width="0.35"/>
<line x1="435.20" y1="99.20" x2="435.20" y2="108.60" stroke="#f7b98c" stroke-width="0.35"/>
<polygon points="428.2,99.0 431.9,99.0 431.9,105.5 430.9,108.8 430.1,104.5 429.3,108.8 428.2,105.5" fill="#e6dcee"/>
<polygon points="428.6,108.8 429.5,104.0 430.1,106.5 430.7,104.0 431.6,108.8" fill="#f08a40" opacity="0.8"/>
<line x1="406.00" y1="104.60" x2="421.10" y2="104.60" stroke="#f07a2a" stroke-width="0.7"/>
<polygon points="423.20,104.60 420.60,106.00 420.60,103.20" fill="#f07a2a" stroke="none" stroke-width="0.5"/>
<circle cx="404.8" cy="108.7" r="1.4" fill="none" stroke="#f07a2a" stroke-width="0.7"/>
<text x="407.80" y="111.00" font-size="4.4" fill="#f07a2a" stroke="#f07a2a" stroke-width="0.15" text-anchor="start" font-style="italic" font-weight="bold">PJR</text>
<rect x="362.60" y="96.20" width="83.40" height="22.00" fill="none" stroke="#3a3a3a" stroke-width="0.9"/>
<line x1="362.60" y1="118.20" x2="362.60" y2="117.20" stroke="#3a3a3a" stroke-width="0.4"/>
<line x1="362.60" y1="96.20" x2="362.60" y2="97.20" stroke="#3a3a3a" stroke-width="0.4"/>
<line x1="379.28" y1="118.20" x2="379.28" y2="117.20" stroke="#3a3a3a" stroke-width="0.4"/>
<line x1="379.28" y1="96.20" x2="379.28" y2="97.20" stroke="#3a3a3a" stroke-width="0.4"/>
<line x1="395.96" y1="118.20" x2="395.96" y2="117.20" stroke="#3a3a3a" stroke-width="0.4"/>
<line x1="395.96" y1="96.20" x2="395.96" y2="97.20" stroke="#3a3a3a" stroke-width="0.4"/>
<line x1="412.64" y1="118.20" x2="412.64" y2="117.20" stroke="#3a3a3a" stroke-width="0.4"/>
<line x1="412.64" y1="96.20" x2="412.64" y2="97.20" stroke="#3a3a3a" stroke-width="0.4"/>
<line x1="429.32" y1="118.20" x2="429.32" y2="117.20" stroke="#3a3a3a" stroke-width="0.4"/>
<line x1="429.32" y1="96.20" x2="429.32" y2="97.20" stroke="#3a3a3a" stroke-width="0.4"/>
<line x1="446.00" y1="118.20" x2="446.00" y2="117.20" stroke="#3a3a3a" stroke-width="0.4"/>
<line x1="446.00" y1="96.20" x2="446.00" y2="97.20" stroke="#3a3a3a" stroke-width="0.4"/>
<text x="362.60" y="124.00" font-size="5.2" fill="#222" stroke="#222" stroke-width="0.08" text-anchor="middle">0</text>
<text x="379.28" y="124.00" font-size="5.2" fill="#222" stroke="#222" stroke-width="0.08" text-anchor="middle">1</text>
<text x="395.96" y="124.00" font-size="5.2" fill="#222" stroke="#222" stroke-width="0.08" text-anchor="middle">2</text>
<text x="412.64" y="124.00" font-size="5.2" fill="#222" stroke="#222" stroke-width="0.08" text-anchor="middle">3</text>
<text x="429.32" y="124.00" font-size="5.2" fill="#222" stroke="#222" stroke-width="0.08" text-anchor="middle">4</text>
<text x="446.00" y="124.00" font-size="5.2" fill="#222" stroke="#222" stroke-width="0.08" text-anchor="middle">5</text>
<text x="405.10" y="129.20" font-size="5.5" fill="#222" stroke="#222" stroke-width="0.08" text-anchor="middle">Time (ms)</text>
<text x="240.20" y="107.20" font-size="5.6" fill="#222" stroke="#222" stroke-width="0.15" text-anchor="middle" transform="rotate(-90 240.20 107.20)">Beat signal</text>
<text x="247.00" y="107.20" font-size="5.5" fill="#222" stroke="#222" stroke-width="0.15" text-anchor="middle" transform="rotate(-90 247.00 107.20)">(V)</text>
<text x="251.20" y="98.20" font-size="4.0" fill="#444" stroke="#444" stroke-width="0.05" text-anchor="middle">1</text>
<text x="251.20" y="108.40" font-size="4.0" fill="#444" stroke="#444" stroke-width="0.05" text-anchor="middle">0</text>
<text x="250.60" y="118.40" font-size="4.0" fill="#444" stroke="#444" stroke-width="0.05" text-anchor="middle">-1</text>
<text x="349.30" y="107.20" font-size="5.6" fill="#222" stroke="#222" stroke-width="0.15" text-anchor="middle" transform="rotate(-90 349.30 107.20)">Beat signal</text>
<text x="356.10" y="107.20" font-size="5.5" fill="#222" stroke="#222" stroke-width="0.15" text-anchor="middle" transform="rotate(-90 356.10 107.20)">(V)</text>
<text x="360.30" y="98.20" font-size="4.0" fill="#444" stroke="#444" stroke-width="0.05" text-anchor="middle">1</text>
<text x="360.30" y="108.40" font-size="4.0" fill="#444" stroke="#444" stroke-width="0.05" text-anchor="middle">0</text>
<text x="359.70" y="118.40" font-size="4.0" fill="#444" stroke="#444" stroke-width="0.05" text-anchor="middle">-1</text>
<polyline points="253.50,137.65 253.78,137.66 254.05,137.70 254.33,137.76 254.60,137.84 254.88,137.95 255.16,138.08 255.43,138.23 255.71,138.41 255.98,138.60 256.26,138.82 256.54,139.06 256.81,139.32 257.09,139.60 257.36,139.90 257.64,140.21 257.92,140.55 258.19,140.89 258.47,141.26 258.74,141.63 259.02,142.03 259.30,142.43 259.57,142.84 259.85,143.26 260.12,143.70 260.40,144.14 260.68,144.58 260.95,145.03 261.23,145.49 261.50,145.94 261.78,146.40 262.06,146.86 262.33,147.31 262.61,147.77 262.88,148.22 263.16,148.66 263.44,149.10 263.71,149.54 263.99,149.96 264.26,150.37 264.54,150.78 264.82,151.17 265.09,151.54 265.37,151.91 265.64,152.25 265.92,152.59 266.20,152.90 266.47,153.20 266.75,153.48 267.02,153.74 267.30,153.98 267.58,154.20 267.85,154.39 268.13,154.57 268.40,154.72 268.68,154.85 268.96,154.96 269.23,155.04 269.51,155.10 269.78,155.14 270.06,155.15 270.34,155.14 270.61,155.10 270.89,155.04 271.16,154.96 271.44,154.85 271.72,154.72 271.99,154.57 272.27,154.39 272.54,154.20 272.82,153.98 273.10,153.74 273.37,153.48 273.65,153.20 273.92,152.90 274.20,152.59 274.48,152.25 274.75,151.91 275.03,151.54 275.30,151.17 275.58,150.78 275.86,150.37 276.13,149.96 276.41,149.54 276.68,149.10 276.96,148.66 277.24,148.22 277.51,147.77 277.79,147.31 278.06,146.86 278.34,146.40 278.62,145.94 278.89,145.49 279.17,145.03 279.44,144.58 279.72,144.14 280.00,143.70 280.27,143.26 280.55,142.84 280.82,142.43 281.10,142.03 281.38,141.63 281.65,141.26 281.93,140.89 282.20,140.55 282.48,140.21 282.76,139.90 283.03,139.60 283.31,139.32 283.58,139.06 283.86,138.82 284.14,138.60 284.41,138.41 284.69,138.23 284.96,138.08 285.24,137.95 285.52,137.84 285.79,137.76 286.07,137.70 286.34,137.66 286.62,137.65 286.90,137.66 287.17,137.70 287.45,137.76 287.72,137.84 288.00,137.95 288.28,138.08 288.55,138.23 288.83,138.41 289.10,138.60 289.38,138.82 289.66,139.06 289.93,139.32 290.21,139.60 290.48,139.90 290.76,140.21 291.04,140.55 291.31,140.89 291.59,141.26 291.86,141.63 292.14,142.03 292.42,142.43 292.69,142.84 292.97,143.26 293.24,143.70 293.52,144.14 293.80,144.58 294.07,145.03 294.35,145.49 294.62,145.94 294.90,146.40 295.18,146.86 295.45,147.31 295.73,147.77 296.00,148.22 296.28,148.66 296.56,149.10 296.83,149.54 297.11,149.96 297.38,150.37 297.66,150.78 297.94,151.17 298.21,151.54 298.49,151.91 298.76,152.25 299.04,152.59 299.32,152.90 299.59,153.20 299.87,153.48 300.14,153.74 300.42,153.98 300.70,154.20 300.97,154.39 301.25,154.57 301.52,154.72 301.80,154.85 302.08,154.96 302.35,155.04 302.63,155.10 302.90,155.14 303.18,155.15 303.46,155.14 303.73,155.10 304.01,155.04 304.28,154.96 304.56,154.85 304.84,154.72 305.11,154.57 305.39,154.39 305.66,154.20 305.94,153.98 306.22,153.74 306.49,153.48 306.77,153.20 307.04,152.90 307.32,152.59 307.60,152.25 307.87,151.91 308.15,151.54 308.42,151.17 308.70,150.78 308.98,150.37 309.25,149.96 309.53,149.54 309.80,149.10 310.08,148.66 310.36,148.22 310.63,147.77 310.91,147.31 311.18,146.86 311.46,146.40 311.74,145.94 312.01,145.49 312.29,145.03 312.56,144.58 312.84,144.14 313.12,143.70 313.39,143.26 313.67,142.84 313.94,142.43 314.22,142.03 314.50,141.63 314.77,141.26 315.05,140.89 315.32,140.55 315.60,140.21 315.88,139.90 316.15,139.60 316.43,139.32 316.70,139.06 316.98,138.82 317.26,138.60 317.53,138.41 317.81,138.23 318.08,138.08 318.36,137.95 318.64,137.84 318.91,137.76 319.19,137.70 319.46,137.66 319.74,137.65 320.02,137.66 320.29,137.70 320.57,137.76 320.84,137.84 321.12,137.95 321.40,138.08 321.67,138.23 321.95,138.41 322.22,138.60 322.50,138.82 322.78,139.06 323.05,139.32 323.33,139.60 323.60,139.90 323.88,140.21 324.16,140.55 324.43,140.89 324.71,141.26 324.98,141.63 325.26,142.03 325.54,142.43 325.81,142.84 326.09,143.26 326.36,143.70 326.64,144.14 326.92,144.58 327.19,145.03 327.47,145.49 327.74,145.94 328.02,146.40 328.30,146.86 328.57,147.31 328.85,147.77 329.12,148.22 329.40,148.66 329.68,149.10 329.95,149.54 330.23,149.96 330.50,150.37 330.78,150.78 331.06,151.17 331.33,151.54 331.61,151.91 331.88,152.25 332.16,152.59 332.44,152.90 332.71,153.20 332.99,153.48 333.26,153.74 333.54,153.98 333.82,154.20 334.09,154.39 334.37,154.57 334.64,154.72 334.92,154.85 335.20,154.96 335.47,155.04 335.75,155.10 336.02,155.14 336.30,155.15" fill="none" stroke="#2b8fe6" stroke-width="1.35" stroke-linejoin="round"/>
<rect x="253.50" y="136.40" width="82.80" height="21.60" fill="none" stroke="#3a3a3a" stroke-width="0.9"/>
<line x1="253.50" y1="158.00" x2="253.50" y2="157.00" stroke="#3a3a3a" stroke-width="0.4"/>
<line x1="253.50" y1="136.40" x2="253.50" y2="137.40" stroke="#3a3a3a" stroke-width="0.4"/>
<line x1="270.06" y1="158.00" x2="270.06" y2="157.00" stroke="#3a3a3a" stroke-width="0.4"/>
<line x1="270.06" y1="136.40" x2="270.06" y2="137.40" stroke="#3a3a3a" stroke-width="0.4"/>
<line x1="286.62" y1="158.00" x2="286.62" y2="157.00" stroke="#3a3a3a" stroke-width="0.4"/>
<line x1="286.62" y1="136.40" x2="286.62" y2="137.40" stroke="#3a3a3a" stroke-width="0.4"/>
<line x1="303.18" y1="158.00" x2="303.18" y2="157.00" stroke="#3a3a3a" stroke-width="0.4"/>
<line x1="303.18" y1="136.40" x2="303.18" y2="137.40" stroke="#3a3a3a" stroke-width="0.4"/>
<line x1="319.74" y1="158.00" x2="319.74" y2="157.00" stroke="#3a3a3a" stroke-width="0.4"/>
<line x1="319.74" y1="136.40" x2="319.74" y2="137.40" stroke="#3a3a3a" stroke-width="0.4"/>
<line x1="336.30" y1="158.00" x2="336.30" y2="157.00" stroke="#3a3a3a" stroke-width="0.4"/>
<line x1="336.30" y1="136.40" x2="336.30" y2="137.40" stroke="#3a3a3a" stroke-width="0.4"/>
<text x="253.50" y="163.80" font-size="5.2" fill="#222" stroke="#222" stroke-width="0.08" text-anchor="middle">0</text>
<text x="270.06" y="163.80" font-size="5.2" fill="#222" stroke="#222" stroke-width="0.08" text-anchor="middle">1</text>
<text x="286.62" y="163.80" font-size="5.2" fill="#222" stroke="#222" stroke-width="0.08" text-anchor="middle">2</text>
<text x="303.18" y="163.80" font-size="5.2" fill="#222" stroke="#222" stroke-width="0.08" text-anchor="middle">3</text>
<text x="319.74" y="163.80" font-size="5.2" fill="#222" stroke="#222" stroke-width="0.08" text-anchor="middle">4</text>
<text x="336.30" y="163.80" font-size="5.2" fill="#222" stroke="#222" stroke-width="0.08" text-anchor="middle">5</text>
<text x="295.70" y="168.90" font-size="5.5" fill="#222" stroke="#222" stroke-width="0.08" text-anchor="middle">Time (ms)</text>
<text x="254.30" y="136.00" font-size="5.3" fill="#222" stroke="#222" stroke-width="0.15" text-anchor="start"><tspan font-size="3.8">×</tspan>10<tspan font-size="3.2" dy="-2.4">6</tspan></text>
<polyline points="362.60,137.20 362.77,137.20 362.93,137.22 363.10,137.24 363.27,137.27 363.43,137.31 363.60,137.36 363.77,137.42 363.93,137.49 364.10,137.57 364.27,137.65 364.43,137.74 364.60,137.85 364.77,137.96 364.94,138.08 365.10,138.20 365.27,138.34 365.44,138.48 365.60,138.63 365.77,138.79 365.94,138.96 366.10,139.13 366.27,139.31 366.44,139.50 366.60,139.69 366.77,139.89 366.94,140.10 367.10,140.32 367.27,140.54 367.44,140.76 367.60,140.99 367.77,141.23 367.94,141.47 368.10,141.72 368.27,141.97 368.44,142.22 368.60,142.48 368.77,142.75 368.94,143.01 369.11,143.28 369.27,143.56 369.44,143.83 369.61,144.11 369.77,144.39 369.94,144.68 370.11,144.96 370.27,145.25 370.44,145.53 370.61,145.82 370.77,146.11 370.94,146.40 371.11,146.19 371.27,145.99 371.44,145.78 371.61,145.57 371.77,145.37 371.94,145.16 372.11,144.96 372.27,144.76 372.44,144.56 372.61,144.36 372.77,144.16 372.94,143.97 373.11,143.78 373.28,143.59 373.44,143.40 373.61,143.22 373.78,143.04 373.94,142.86 374.11,142.69 374.28,142.52 374.44,142.35 374.61,142.19 374.78,142.04 374.94,141.88 375.11,141.73 375.28,141.59 375.44,141.45 375.61,141.31 375.78,141.18 375.94,141.06 376.11,140.94 376.28,140.83 376.44,140.72 376.61,140.62 376.78,140.52 376.94,140.43 377.11,140.34 377.28,140.26 377.45,140.19 377.61,140.12 377.78,140.06 377.95,140.01 378.11,139.96 378.28,139.92 378.45,139.88 378.61,139.85 378.78,139.83 378.95,139.81 379.11,139.80 379.28,139.80 379.45,139.80 379.61,139.81 379.78,139.83 379.95,139.85 380.11,139.88 380.28,139.92 380.45,139.96 380.61,140.01 380.78,140.06 380.95,140.12 381.11,140.19 381.28,140.26 381.45,140.34 381.62,140.43 381.78,140.52 381.95,140.62 382.12,140.72 382.28,140.83 382.45,140.94 382.62,141.06 382.78,141.18 382.95,141.31 383.12,141.45 383.28,141.59 383.45,141.73 383.62,141.88 383.78,142.04 383.95,142.19 384.12,142.35 384.28,142.52 384.45,142.69 384.62,142.86 384.78,143.04 384.95,143.22 385.12,143.40 385.28,143.59 385.45,143.78 385.62,143.97 385.79,144.16 385.95,144.36 386.12,144.56 386.29,144.76 386.45,144.96 386.62,145.16 386.79,145.37 386.95,145.57 387.12,145.78 387.29,145.99 387.45,146.19 387.62,146.40 387.79,146.11 387.95,145.82 388.12,145.53 388.29,145.25 388.45,144.96 388.62,144.68 388.79,144.39 388.95,144.11 389.12,143.83 389.29,143.56 389.45,143.28 389.62,143.01 389.79,142.75 389.96,142.48 390.12,142.22 390.29,141.97 390.46,141.72 390.62,141.47 390.79,141.23 390.96,140.99 391.12,140.76 391.29,140.54 391.46,140.32 391.62,140.10 391.79,139.89 391.96,139.69 392.12,139.50 392.29,139.31 392.46,139.13 392.62,138.96 392.79,138.79 392.96,138.63 393.12,138.48 393.29,138.34 393.46,138.20 393.62,138.08 393.79,137.96 393.96,137.85 394.13,137.74 394.29,137.65 394.46,137.57 394.63,137.49 394.79,137.42 394.96,137.36 395.13,137.31 395.29,137.27 395.46,137.24 395.63,137.22 395.79,137.20 395.96,137.20 396.13,137.20 396.29,137.22 396.46,137.24 396.63,137.27 396.79,137.31 396.96,137.36 397.13,137.42 397.29,137.49 397.46,137.57 397.63,137.65 397.79,137.74 397.96,137.85 398.13,137.96 398.30,138.08 398.46,138.20 398.63,138.34 398.80,138.48 398.96,138.63 399.13,138.79 399.30,138.96 399.46,139.13 399.63,139.31 399.80,139.50 399.96,139.69 400.13,139.89 400.30,140.10 400.46,140.32 400.63,140.54 400.80,140.76 400.96,140.99 401.13,141.23 401.30,141.47 401.46,141.72 401.63,141.97 401.80,142.22 401.96,142.48 402.13,142.75 402.30,143.01 402.47,143.28 402.63,143.56 402.80,143.83 402.97,144.11 403.13,144.39 403.30,144.68 403.47,144.96 403.63,145.25 403.80,145.53 403.97,145.82 404.13,146.11 404.30,146.40 404.47,146.19 404.63,145.99 404.80,145.78 404.97,145.57 405.13,145.37 405.30,145.16 405.47,144.96 405.63,144.76 405.80,144.56 405.97,144.36 406.13,144.16 406.30,143.97 406.47,143.78 406.64,143.59 406.80,143.40 406.97,143.22 407.14,143.04 407.30,142.86 407.47,142.69 407.64,142.52 407.80,142.35 407.97,142.19 408.14,142.04 408.30,141.88 408.47,141.73 408.64,141.59 408.80,141.45 408.97,141.31 409.14,141.18 409.30,141.06 409.47,140.94 409.64,140.83 409.80,140.72 409.97,140.62 410.14,140.52 410.30,140.43 410.47,140.34 410.64,140.26 410.81,140.19 410.97,140.12 411.14,140.06 411.31,140.01 411.47,139.96 411.64,139.92 411.81,139.88 411.97,139.85 412.14,139.83 412.31,139.81 412.47,139.80 412.64,139.80 412.81,139.80 412.97,139.81 413.14,139.83 413.31,139.85 413.47,139.88 413.64,139.92 413.81,139.96 413.97,140.01 414.14,140.06 414.31,140.12 414.47,140.19 414.64,140.26 414.81,140.34 414.98,140.43 415.14,140.52 415.31,140.62 415.48,140.72 415.64,140.83 415.81,140.94 415.98,141.06 416.14,141.18 416.31,141.31 416.48,141.45 416.64,141.59 416.81,141.73 416.98,141.88 417.14,142.04 417.31,142.19 417.48,142.35 417.64,142.52 417.81,142.69 417.98,142.86 418.14,143.04 418.31,143.22 418.48,143.40 418.64,143.59 418.81,143.78 418.98,143.97 419.15,144.16 419.31,144.36 419.48,144.56 419.65,144.76 419.81,144.96 419.98,145.16 420.15,145.37 420.31,145.57 420.48,145.78 420.65,145.99 420.81,146.19 420.98,146.40 421.15,146.11 421.31,145.82 421.48,145.53 421.65,145.25 421.81,144.96 421.98,144.68 422.15,144.39 422.31,144.11 422.48,143.83 422.65,143.56 422.81,143.28 422.98,143.01 423.15,142.75 423.32,142.48 423.48,142.22 423.65,141.97 423.82,141.72 423.98,141.47 424.15,141.23 424.32,140.99 424.48,140.76 424.65,140.54 424.82,140.32 424.98,140.10 425.15,139.89 425.32,139.69 425.48,139.50 425.65,139.31 425.82,139.13 425.98,138.96 426.15,138.79 426.32,138.63 426.48,138.48 426.65,138.34 426.82,138.20 426.98,138.08 427.15,137.96 427.32,137.85 427.49,137.74 427.65,137.65 427.82,137.57 427.99,137.49 428.15,137.42 428.32,137.36 428.49,137.31 428.65,137.27 428.82,137.24 428.99,137.22 429.15,137.20 429.32,137.20 429.49,137.20 429.65,137.22 429.82,137.24 429.99,137.27 430.15,137.31 430.32,137.36 430.49,137.42 430.65,137.49 430.82,137.57 430.99,137.65 431.15,137.74 431.32,137.85 431.49,137.96 431.66,138.08 431.82,138.20 431.99,138.34 432.16,138.48 432.32,138.63 432.49,138.79 432.66,138.96 432.82,139.13 432.99,139.31 433.16,139.50 433.32,139.69 433.49,139.89 433.66,140.10 433.82,140.32 433.99,140.54 434.16,140.76 434.32,140.99 434.49,141.23 434.66,141.47 434.82,141.72 434.99,141.97 435.16,142.22 435.32,142.48 435.49,142.75 435.66,143.01 435.83,143.28 435.99,143.56 436.16,143.83 436.33,144.11 436.49,144.39 436.66,144.68 436.83,144.96 436.99,145.25 437.16,145.53 437.33,145.82 437.49,146.11 437.66,146.40 437.83,146.19 437.99,145.99 438.16,145.78 438.33,145.57 438.49,145.37 438.66,145.16 438.83,144.96 438.99,144.76 439.16,144.56 439.33,144.36 439.49,144.16 439.66,143.97 439.83,143.78 440.00,143.59 440.16,143.40 440.33,143.22 440.50,143.04 440.66,142.86 440.83,142.69 441.00,142.52 441.16,142.35 441.33,142.19 441.50,142.04 441.66,141.88 441.83,141.73 442.00,141.59 442.16,141.45 442.33,141.31 442.50,141.18 442.66,141.06 442.83,140.94 443.00,140.83 443.16,140.72 443.33,140.62 443.50,140.52 443.66,140.43 443.83,140.34 444.00,140.26 444.17,140.19 444.33,140.12 444.50,140.06 444.67,140.01 444.83,139.96 445.00,139.92 445.17,139.88 445.33,139.85 445.50,139.83 445.67,139.81 445.83,139.80 446.00,139.80" fill="none" stroke="#3895e8" stroke-width="1.2" stroke-linejoin="round"/>
<polyline points="362.60,137.20 362.77,137.20 362.93,137.22 363.10,137.24 363.27,137.27 363.43,137.31 363.60,137.36 363.77,137.42 363.93,137.49 364.10,137.57 364.27,137.65 364.43,137.74 364.60,137.85 364.77,137.96 364.94,138.08 365.10,138.20 365.27,138.34 365.44,138.48 365.60,138.63 365.77,138.79 365.94,138.96 366.10,139.13 366.27,139.31 366.44,139.50 366.60,139.69 366.77,139.89 366.94,140.10 367.10,140.32 367.27,140.54 367.44,140.76 367.60,140.99 367.77,141.23 367.94,141.47 368.10,141.72 368.27,141.97 368.44,142.22 368.60,142.48 368.77,142.75 368.94,143.01 369.11,143.28 369.27,143.56 369.44,143.83 369.61,144.11 369.77,144.39 369.94,144.68 370.11,144.96 370.27,145.25 370.44,145.53 370.61,145.82 370.77,146.11 370.94,146.40 371.11,146.67 371.27,146.94 371.44,147.21 371.61,147.48 371.77,147.75 371.94,148.01 372.11,148.28 372.27,148.54 372.44,148.80 372.61,149.06 372.77,149.31 372.94,149.57 373.11,149.82 373.28,150.06 373.44,150.30 373.61,150.54 373.78,150.78 373.94,151.01 374.11,151.23 374.28,151.45 374.44,151.67 374.61,151.88 374.78,152.09 374.94,152.29 375.11,152.48 375.28,152.67 375.44,152.85 375.61,153.03 375.78,153.20 375.94,153.36 376.11,153.51 376.28,153.66 376.44,153.80 376.61,153.94 376.78,154.06 376.94,154.18 377.11,154.29 377.28,154.40 377.45,154.49 377.61,154.58 377.78,154.66 377.95,154.73 378.11,154.79 378.28,154.85 378.45,154.89 378.61,154.93 378.78,154.96 378.95,154.98 379.11,155.00 379.28,155.00 379.45,155.00 379.61,154.98 379.78,154.96 379.95,154.93 380.11,154.89 380.28,154.85 380.45,154.79 380.61,154.73 380.78,154.66 380.95,154.58 381.11,154.49 381.28,154.40 381.45,154.29 381.62,154.18 381.78,154.06 381.95,153.94 382.12,153.80 382.28,153.66 382.45,153.51 382.62,153.36 382.78,153.20 382.95,153.03 383.12,152.85 383.28,152.67 383.45,152.48 383.62,152.29 383.78,152.09 383.95,151.88 384.12,151.67 384.28,151.45 384.45,151.23 384.62,151.01 384.78,150.78 384.95,150.54 385.12,150.30 385.28,150.06 385.45,149.82 385.62,149.57 385.79,149.31 385.95,149.06 386.12,148.80 386.29,148.54 386.45,148.28 386.62,148.01 386.79,147.75 386.95,147.48 387.12,147.21 387.29,146.94 387.45,146.67 387.62,146.40 387.79,146.11 387.95,145.82 388.12,145.53 388.29,145.25 388.45,144.96 388.62,144.68 388.79,144.39 388.95,144.11 389.12,143.83 389.29,143.56 389.45,143.28 389.62,143.01 389.79,142.75 389.96,142.48 390.12,142.22 390.29,141.97 390.46,141.72 390.62,141.47 390.79,141.23 390.96,140.99 391.12,140.76 391.29,140.54 391.46,140.32 391.62,140.10 391.79,139.89 391.96,139.69 392.12,139.50 392.29,139.31 392.46,139.13 392.62,138.96 392.79,138.79 392.96,138.63 393.12,138.48 393.29,138.34 393.46,138.20 393.62,138.08 393.79,137.96 393.96,137.85 394.13,137.74 394.29,137.65 394.46,137.57 394.63,137.49 394.79,137.42 394.96,137.36 395.13,137.31 395.29,137.27 395.46,137.24 395.63,137.22 395.79,137.20 395.96,137.20 396.13,137.20 396.29,137.22 396.46,137.24 396.63,137.27 396.79,137.31 396.96,137.36 397.13,137.42 397.29,137.49 397.46,137.57 397.63,137.65 397.79,137.74 397.96,137.85 398.13,137.96 398.30,138.08 398.46,138.20 398.63,138.34 398.80,138.48 398.96,138.63 399.13,138.79 399.30,138.96 399.46,139.13 399.63,139.31 399.80,139.50 399.96,139.69 400.13,139.89 400.30,140.10 400.46,140.32 400.63,140.54 400.80,140.76 400.96,140.99 401.13,141.23 401.30,141.47 401.46,141.72 401.63,141.97 401.80,142.22 401.96,142.48 402.13,142.75 402.30,143.01 402.47,143.28 402.63,143.56 402.80,143.83 402.97,144.11 403.13,144.39 403.30,144.68 403.47,144.96 403.63,145.25 403.80,145.53 403.97,145.82 404.13,146.11 404.30,146.40 404.47,146.67 404.63,146.94 404.80,147.21 404.97,147.48 405.13,147.75 405.30,148.01 405.47,148.28 405.63,148.54 405.80,148.80 405.97,149.06 406.13,149.31 406.30,149.57 406.47,149.82 406.64,150.06 406.80,150.30 406.97,150.54 407.14,150.78 407.30,151.01 407.47,151.23 407.64,151.45 407.80,151.67 407.97,151.88 408.14,152.09 408.30,152.29 408.47,152.48 408.64,152.67 408.80,152.85 408.97,153.03 409.14,153.20 409.30,153.36 409.47,153.51 409.64,153.66 409.80,153.80 409.97,153.94 410.14,154.06 410.30,154.18 410.47,154.29 410.64,154.40 410.81,154.49 410.97,154.58 411.14,154.66 411.31,154.73 411.47,154.79 411.64,154.85 411.81,154.89 411.97,154.93 412.14,154.96 412.31,154.98 412.47,155.00 412.64,155.00 412.81,155.00 412.97,154.98 413.14,154.96 413.31,154.93 413.47,154.89 413.64,154.85 413.81,154.79 413.97,154.73 414.14,154.66 414.31,154.58 414.47,154.49 414.64,154.40 414.81,154.29 414.98,154.18 415.14,154.06 415.31,153.94 415.48,153.80 415.64,153.66 415.81,153.51 415.98,153.36 416.14,153.20 416.31,153.03 416.48,152.85 416.64,152.67 416.81,152.48 416.98,152.29 417.14,152.09 417.31,151.88 417.48,151.67 417.64,151.45 417.81,151.23 417.98,151.01 418.14,150.78 418.31,150.54 418.48,150.30 418.64,150.06 418.81,149.82 418.98,149.57 419.15,149.31 419.31,149.06 419.48,148.80 419.65,148.54 419.81,148.28 419.98,148.01 420.15,147.75 420.31,147.48 420.48,147.21 420.65,146.94 420.81,146.67 420.98,146.40 421.15,146.11 421.31,145.82 421.48,145.53 421.65,145.25 421.81,144.96 421.98,144.68 422.15,144.39 422.31,144.11 422.48,143.83 422.65,143.56 422.81,143.28 422.98,143.01 423.15,142.75 423.32,142.48 423.48,142.22 423.65,141.97 423.82,141.72 423.98,141.47 424.15,141.23 424.32,140.99 424.48,140.76 424.65,140.54 424.82,140.32 424.98,140.10 425.15,139.89 425.32,139.69 425.48,139.50 425.65,139.31 425.82,139.13 425.98,138.96 426.15,138.79 426.32,138.63 426.48,138.48 426.65,138.34 426.82,138.20 426.98,138.08 427.15,137.96 427.32,137.85 427.49,137.74 427.65,137.65 427.82,137.57 427.99,137.49 428.15,137.42 428.32,137.36 428.49,137.31 428.65,137.27 428.82,137.24 428.99,137.22 429.15,137.20 429.32,137.20 429.49,137.20 429.65,137.22 429.82,137.24 429.99,137.27 430.15,137.31 430.32,137.36 430.49,137.42 430.65,137.49 430.82,137.57 430.99,137.65 431.15,137.74 431.32,137.85 431.49,137.96 431.66,138.08 431.82,138.20 431.99,138.34 432.16,138.48 432.32,138.63 432.49,138.79 432.66,138.96 432.82,139.13 432.99,139.31 433.16,139.50 433.32,139.69 433.49,139.89 433.66,140.10 433.82,140.32 433.99,140.54 434.16,140.76 434.32,140.99 434.49,141.23 434.66,141.47 434.82,141.72 434.99,141.97 435.16,142.22 435.32,142.48 435.49,142.75 435.66,143.01 435.83,143.28 435.99,143.56 436.16,143.83 436.33,144.11 436.49,144.39 436.66,144.68 436.83,144.96 436.99,145.25 437.16,145.53 437.33,145.82 437.49,146.11 437.66,146.40 437.83,146.67 437.99,146.94 438.16,147.21 438.33,147.48 438.49,147.75 438.66,148.01 438.83,148.28 438.99,148.54 439.16,148.80 439.33,149.06 439.49,149.31 439.66,149.57 439.83,149.82 440.00,150.06 440.16,150.30 440.33,150.54 440.50,150.78 440.66,151.01 440.83,151.23 441.00,151.45 441.16,151.67 441.33,151.88 441.50,152.09 441.66,152.29 441.83,152.48 442.00,152.67 442.16,152.85 442.33,153.03 442.50,153.20 442.66,153.36 442.83,153.51 443.00,153.66 443.16,153.80 443.33,153.94 443.50,154.06 443.66,154.18 443.83,154.29 444.00,154.40 444.17,154.49 444.33,154.58 444.50,154.66 444.67,154.73 444.83,154.79 445.00,154.85 445.17,154.89 445.33,154.93 445.50,154.96 445.67,154.98 445.83,155.00 446.00,155.00" fill="none" stroke="#ea2f6c" stroke-width="1.2" stroke-linejoin="round" stroke-dasharray="2.4 1.0"/>
<rect x="362.60" y="136.40" width="83.40" height="21.60" fill="none" stroke="#3a3a3a" stroke-width="0.9"/>
<line x1="362.60" y1="158.00" x2="362.60" y2="157.00" stroke="#3a3a3a" stroke-width="0.4"/>
<line x1="362.60" y1="136.40" x2="362.60" y2="137.40" stroke="#3a3a3a" stroke-width="0.4"/>
<line x1="379.28" y1="158.00" x2="379.28" y2="157.00" stroke="#3a3a3a" stroke-width="0.4"/>
<line x1="379.28" y1="136.40" x2="379.28" y2="137.40" stroke="#3a3a3a" stroke-width="0.4"/>
<line x1="395.96" y1="158.00" x2="395.96" y2="157.00" stroke="#3a3a3a" stroke-width="0.4"/>
<line x1="395.96" y1="136.40" x2="395.96" y2="137.40" stroke="#3a3a3a" stroke-width="0.4"/>
<line x1="412.64" y1="158.00" x2="412.64" y2="157.00" stroke="#3a3a3a" stroke-width="0.4"/>
<line x1="412.64" y1="136.40" x2="412.64" y2="137.40" stroke="#3a3a3a" stroke-width="0.4"/>
<line x1="429.32" y1="158.00" x2="429.32" y2="157.00" stroke="#3a3a3a" stroke-width="0.4"/>
<line x1="429.32" y1="136.40" x2="429.32" y2="137.40" stroke="#3a3a3a" stroke-width="0.4"/>
<line x1="446.00" y1="158.00" x2="446.00" y2="157.00" stroke="#3a3a3a" stroke-width="0.4"/>
<line x1="446.00" y1="136.40" x2="446.00" y2="137.40" stroke="#3a3a3a" stroke-width="0.4"/>
<text x="362.60" y="163.80" font-size="5.2" fill="#222" stroke="#222" stroke-width="0.08" text-anchor="middle">0</text>
<text x="379.28" y="163.80" font-size="5.2" fill="#222" stroke="#222" stroke-width="0.08" text-anchor="middle">1</text>
<text x="395.96" y="163.80" font-size="5.2" fill="#222" stroke="#222" stroke-width="0.08" text-anchor="middle">2</text>
<text x="412.64" y="163.80" font-size="5.2" fill="#222" stroke="#222" stroke-width="0.08" text-anchor="middle">3</text>
<text x="429.32" y="163.80" font-size="5.2" fill="#222" stroke="#222" stroke-width="0.08" text-anchor="middle">4</text>
<text x="446.00" y="163.80" font-size="5.2" fill="#222" stroke="#222" stroke-width="0.08" text-anchor="middle">5</text>
<text x="405.10" y="168.90" font-size="5.5" fill="#222" stroke="#222" stroke-width="0.08" text-anchor="middle">Time (ms)</text>
<text x="363.40" y="136.00" font-size="5.3" fill="#222" stroke="#222" stroke-width="0.15" text-anchor="start"><tspan font-size="3.8">×</tspan>10<tspan font-size="3.2" dy="-2.4">6</tspan></text>
<text x="371.00" y="151.20" font-size="4.2" fill="#e8336e" stroke="#e8336e" stroke-width="0.15" text-anchor="start" font-style="italic">f<tspan font-size="2.6" dy="0.8">1</tspan></text>
<text x="387.00" y="151.20" font-size="4.2" fill="#e8336e" stroke="#e8336e" stroke-width="0.15" text-anchor="start" font-style="italic">f<tspan font-size="2.6" dy="0.8">2</tspan></text>
<text x="240.20" y="147.20" font-size="5.6" fill="#222" stroke="#222" stroke-width="0.15" text-anchor="middle" transform="rotate(-90 240.20 147.20)">IF trajectory</text>
<text x="247.00" y="147.40" font-size="5.5" fill="#222" stroke="#222" stroke-width="0.15" text-anchor="middle" transform="rotate(-90 247.00 147.40)">(Hz)</text>
<text x="349.30" y="147.20" font-size="5.6" fill="#222" stroke="#222" stroke-width="0.15" text-anchor="middle" transform="rotate(-90 349.30 147.20)">IF trajectory</text>
<text x="356.10" y="147.40" font-size="5.5" fill="#222" stroke="#222" stroke-width="0.15" text-anchor="middle" transform="rotate(-90 356.10 147.40)">(Hz)</text>
<text x="251.20" y="139.00" font-size="4.0" fill="#333" stroke="#333" stroke-width="0.15" text-anchor="middle">3</text>
<text x="251.20" y="148.60" font-size="4.0" fill="#333" stroke="#333" stroke-width="0.15" text-anchor="middle" transform="rotate(-90 251.20 148.60)">2</text>
<text x="251.20" y="158.00" font-size="4.0" fill="#333" stroke="#333" stroke-width="0.15" text-anchor="middle">1</text>
<text x="360.30" y="138.60" font-size="4.0" fill="#333" stroke="#333" stroke-width="0.15" text-anchor="middle">1</text>
<text x="360.30" y="148.00" font-size="4.0" fill="#333" stroke="#333" stroke-width="0.15" text-anchor="middle">0</text>
<text x="359.80" y="158.60" font-size="4.0" fill="#333" stroke="#333" stroke-width="0.15" text-anchor="middle">-1</text>
<polyline points="253.80,174.00 254.10,179.00 254.80,182.00 256.10,183.20 257.07,183.38 257.33,183.39 257.59,183.41 257.85,183.42 258.11,183.43 258.37,183.45 258.63,183.46 258.89,183.48 259.15,183.50 259.41,183.51 259.67,183.53 259.93,183.55 260.19,183.56 260.46,183.58 260.72,183.60 260.98,183.62 261.24,183.64 261.50,183.65 261.76,183.67 262.02,183.69 262.28,183.71 262.54,183.73 262.80,183.75 263.06,183.76 263.32,183.78 263.58,183.80 263.84,183.82 264.10,183.83 264.36,183.85 264.62,183.87 264.88,183.88 265.14,183.90 265.40,183.91 265.66,183.93 265.92,183.94 266.18,183.95 266.44,183.97 266.70,183.98 266.96,183.99 267.22,184.00 267.48,184.01 267.74,184.01 268.00,184.02 268.26,184.03 268.52,184.03 268.78,184.04 269.04,184.04 269.30,184.05 269.56,184.05 269.82,184.05 270.08,184.05 270.34,184.05 270.60,184.05 270.86,184.05 271.12,184.04 271.38,184.04 271.65,184.03 271.91,184.03 272.17,184.02 272.43,184.01 272.69,184.00 272.95,184.00 273.21,183.99 273.47,183.97 273.73,183.96 273.99,183.95 274.25,183.94 274.51,183.92 274.77,183.91 275.03,183.90 275.29,183.88 275.55,183.86 275.81,183.85 276.07,183.83 276.33,183.81 276.59,183.80 276.85,183.78 277.11,183.76 277.37,183.74 277.63,183.73 277.89,183.71 278.15,183.69 278.41,183.67 278.67,183.65 278.93,183.63 279.19,183.61 279.45,183.60 279.71,183.58 279.97,183.56 280.23,183.54 280.49,183.53 280.75,183.51 281.01,183.49 281.27,183.48 281.53,183.46 281.79,183.45 282.05,183.43 282.31,183.42 282.57,183.41 282.83,183.39 283.10,183.38 283.36,183.37 283.62,183.36 283.88,183.35 284.14,183.34 284.40,183.33 284.66,183.33 284.92,183.32 285.18,183.31 285.44,183.31 285.70,183.31 285.96,183.30 286.22,183.30 286.48,183.30 286.74,183.30 287.00,183.30 287.26,183.30 287.52,183.31 287.78,183.31 288.04,183.31 288.30,183.32 288.56,183.33 288.82,183.33 289.08,183.34 289.34,183.35 289.60,183.36 289.86,183.37 290.12,183.38 290.38,183.39 290.64,183.40 290.90,183.42 291.16,183.43 291.42,183.45 291.68,183.46 291.94,183.48 292.20,183.49 292.46,183.51 292.72,183.52 292.98,183.54 293.24,183.56 293.50,183.58 293.76,183.59 294.02,183.61 294.28,183.63 294.55,183.65 294.81,183.67 295.07,183.69 295.33,183.71 295.59,183.72 295.85,183.74 296.11,183.76 296.37,183.78 296.63,183.80 296.89,183.81 297.15,183.83 297.41,183.85 297.67,183.86 297.93,183.88 298.19,183.89 298.45,183.91 298.71,183.92 298.97,183.94 299.23,183.95 299.49,183.96 299.75,183.97 300.01,183.98 300.27,183.99 300.53,184.00 300.79,184.01 301.05,184.02 301.31,184.03 301.57,184.03 301.83,184.04 302.09,184.04 302.35,184.05 302.61,184.05 302.87,184.05 303.13,184.05 303.39,184.05 303.65,184.05 303.91,184.05 304.17,184.04 304.43,184.04 304.69,184.03 304.95,184.03 305.21,184.02 305.47,184.02 305.73,184.01 306.00,184.00 306.26,183.99 306.52,183.98 306.78,183.97 307.04,183.95 307.30,183.94 307.56,183.93 307.82,183.91 308.08,183.90 308.34,183.88 308.60,183.87 308.86,183.85 309.12,183.84 309.38,183.82 309.64,183.80 309.90,183.78 310.16,183.77 310.42,183.75 310.68,183.73 310.94,183.71 311.20,183.69 311.46,183.68 311.72,183.66 311.98,183.64 312.24,183.62 312.50,183.60 312.76,183.58 313.02,183.57 313.28,183.55 313.54,183.53 313.80,183.51 314.06,183.50 314.32,183.48 314.58,183.47 314.84,183.45 315.10,183.44 315.36,183.42 315.62,183.41 315.88,183.40 316.14,183.38 316.40,183.37 316.66,183.36 316.92,183.35 317.19,183.34 317.45,183.33 317.71,183.33 317.97,183.32 318.23,183.32 318.49,183.31 318.75,183.31 319.01,183.30 319.27,183.30 319.53,183.30 319.79,183.30 320.05,183.30 320.31,183.30 320.57,183.30 320.83,183.31 321.09,183.31 321.35,183.32 321.61,183.32 321.87,183.33 322.13,183.34 322.39,183.35 322.65,183.36 322.91,183.37 323.17,183.38 323.43,183.39 323.69,183.40 323.95,183.41 324.21,183.43 324.47,183.44 324.73,183.46 324.99,183.47 325.25,183.49 325.51,183.50 325.77,183.52 326.03,183.54 326.29,183.55 326.55,183.57 326.81,183.59 327.07,183.61 327.33,183.63 327.59,183.64 327.85,183.66 328.11,183.68 328.37,183.70 328.64,183.72 328.90,183.74 329.16,183.76 329.42,183.77 329.68,183.79 332.16,183.70 334.31,184.50 335.64,186.50 336.00,193.80" fill="none" stroke="#2dbdbd" stroke-width="1.15" stroke-linejoin="round"/>
<polyline points="253.80,174.00 254.10,179.00 254.80,182.00 256.10,183.20 257.07,183.38 257.33,183.39 257.59,183.41 257.85,183.42 258.11,183.43 258.37,183.45 258.63,183.46 258.89,183.48 259.15,183.50 259.41,183.51 259.67,183.53 259.93,183.55 260.19,183.56 260.46,183.58 260.72,183.60 260.98,183.62 261.24,183.64 261.50,183.65 261.76,183.67 262.02,183.69 262.28,183.71 262.54,183.73 262.80,183.75 263.06,183.76 263.32,183.78 263.58,183.80 263.84,183.82 264.10,183.83 264.36,183.85 264.62,183.87 264.88,183.88 265.14,183.90 265.40,183.91 265.66,183.93 265.92,183.94 266.18,183.95 266.44,183.97 266.70,183.98 266.96,183.99 267.22,184.00 267.48,184.01 267.74,184.01 268.00,184.02 268.26,184.03 268.52,184.03 268.78,184.04 269.04,184.04 269.30,184.05 269.56,184.05 269.82,184.05 270.08,184.05 270.34,184.05 270.60,184.05 270.86,184.05 271.12,184.04 271.38,184.04 271.65,184.03 271.91,184.03 272.17,184.02 272.43,184.01 272.69,184.00 272.95,184.00 273.21,183.99 273.47,183.97 273.73,183.96 273.99,183.95 274.25,183.94 274.51,183.92 274.77,183.91 275.03,183.90 275.29,183.88 275.55,183.86 275.81,183.85 276.07,183.83 276.33,183.81 276.59,183.80 276.85,183.78 277.11,183.76 277.37,183.74 277.63,183.73 277.89,183.71 278.15,183.69 278.41,183.67 278.67,183.65 278.93,183.63 279.19,183.61 279.45,183.60 279.71,183.58 279.97,183.56 280.23,183.54 280.49,183.53 280.75,183.51 281.01,183.49 281.27,183.48 281.53,183.46 281.79,183.45 282.05,183.43 282.31,183.42 282.57,183.41 282.83,183.39 283.10,183.38 283.36,183.37 283.62,183.36 283.88,183.35 284.14,183.34 284.40,183.33 284.66,183.33 284.92,183.32 285.18,183.31 285.44,183.31 285.70,183.31 285.96,183.30 286.22,183.30 286.48,183.30 286.74,183.30 287.00,183.30 287.26,183.30 287.52,183.31 287.78,183.31 288.04,183.31 288.30,183.32 288.56,183.33 288.82,183.33 289.08,183.34 289.34,183.35 289.60,183.36 289.86,183.37 290.12,183.38 290.38,183.39 290.64,183.40 290.90,183.42 291.16,183.43 291.42,183.45 291.68,183.46 291.94,183.48 292.20,183.49 292.46,183.51 292.72,183.52 292.98,183.54 293.24,183.56 293.50,183.58 293.76,183.59 294.02,183.61 294.28,183.63 294.55,183.65 294.81,183.67 295.07,183.69 295.33,183.71 295.59,183.72 295.85,183.74 296.11,183.76 296.37,183.78 296.63,183.80 296.89,183.81 297.15,183.83 297.41,183.85 297.67,183.86 297.93,183.88 298.19,183.89 298.45,183.91 298.71,183.92 298.97,183.94 299.23,183.95 299.49,183.96 299.75,183.97 300.01,183.98 300.27,183.99 300.53,184.00 300.79,184.01 301.05,184.02 301.31,184.03 301.57,184.03 301.83,184.04 302.09,184.04 302.35,184.05 302.61,184.05 302.87,184.05 303.13,184.05 303.39,184.05 303.65,184.05 303.91,184.05 304.17,184.04 304.43,184.04 304.69,184.03 304.95,184.03 305.21,184.02 305.47,184.02 305.73,184.01 306.00,184.00 306.26,183.99 306.52,183.98 306.78,183.97 307.04,183.95 307.30,183.94 307.56,183.93 307.82,183.91 308.08,183.90 308.34,183.88 308.60,183.87 308.86,183.85 309.12,183.84 309.38,183.82 309.64,183.80 309.90,183.78 310.16,183.77 310.42,183.75 310.68,183.73 310.94,183.71 311.20,183.69 311.46,183.68 311.72,183.66 311.98,183.64 312.24,183.62 312.50,183.60 312.76,183.58 313.02,183.57 313.28,183.55 313.54,183.53 313.80,183.51 314.06,183.50 314.32,183.48 314.58,183.47 314.84,183.45 315.10,183.44 315.36,183.42 315.62,183.41 315.88,183.40 316.14,183.38 316.40,183.37 316.66,183.36 316.92,183.35 317.19,183.34 317.45,183.33 317.71,183.33 317.97,183.32 318.23,183.32 318.49,183.31 318.75,183.31 319.01,183.30 319.27,183.30 319.53,183.30 319.79,183.30 320.05,183.30 320.31,183.30 320.57,183.30 320.83,183.31 321.09,183.31 321.35,183.32 321.61,183.32 321.87,183.33 322.13,183.34 322.39,183.35 322.65,183.36 322.91,183.37 323.17,183.38 323.43,183.39 323.69,183.40 323.95,183.41 324.21,183.43 324.47,183.44 324.73,183.46 324.99,183.47 325.25,183.49 325.51,183.50 325.77,183.52 326.03,183.54 326.29,183.55 326.55,183.57 326.81,183.59 327.07,183.61 327.33,183.63 327.59,183.64 327.85,183.66 328.11,183.68 328.37,183.70 328.64,183.72 328.90,183.74 329.16,183.76 329.42,183.77 329.68,183.79 332.16,183.70 334.31,184.50 335.64,186.50 336.00,193.80" fill="none" stroke="#14999a" stroke-width="0.45" stroke-linejoin="round" opacity="0.6"/>
<polyline points="327.19,183.40 332.99,184.00 335.90,185.50" fill="none" stroke="#1aa5a5" stroke-width="0.5" stroke-linejoin="round" opacity="0.75"/>
<polyline points="327.19,183.40 332.99,184.00 335.90,188.00" fill="none" stroke="#1aa5a5" stroke-width="0.5" stroke-linejoin="round" opacity="0.75"/>
<polyline points="327.19,183.40 332.99,184.00 335.90,190.50" fill="none" stroke="#1aa5a5" stroke-width="0.5" stroke-linejoin="round" opacity="0.75"/>
<polyline points="327.19,183.40 332.99,184.00 335.90,193.00" fill="none" stroke="#1aa5a5" stroke-width="0.5" stroke-linejoin="round" opacity="0.75"/>
<polyline points="254.00,175.00 255.00,182.20 257.50,183.30" fill="none" stroke="#1aa5a5" stroke-width="0.5" stroke-linejoin="round" opacity="0.7"/>
<polyline points="254.00,177.50 255.00,182.20 257.50,183.30" fill="none" stroke="#1aa5a5" stroke-width="0.5" stroke-linejoin="round" opacity="0.7"/>
<polyline points="254.00,180.00 255.00,182.20 257.50,183.30" fill="none" stroke="#1aa5a5" stroke-width="0.5" stroke-linejoin="round" opacity="0.7"/>
<rect x="253.50" y="172.70" width="82.80" height="21.90" fill="none" stroke="#3a3a3a" stroke-width="0.9"/>
<line x1="253.50" y1="194.60" x2="253.50" y2="193.60" stroke="#3a3a3a" stroke-width="0.4"/>
<line x1="253.50" y1="172.70" x2="253.50" y2="173.70" stroke="#3a3a3a" stroke-width="0.4"/>
<line x1="270.06" y1="194.60" x2="270.06" y2="193.60" stroke="#3a3a3a" stroke-width="0.4"/>
<line x1="270.06" y1="172.70" x2="270.06" y2="173.70" stroke="#3a3a3a" stroke-width="0.4"/>
<line x1="286.62" y1="194.60" x2="286.62" y2="193.60" stroke="#3a3a3a" stroke-width="0.4"/>
<line x1="286.62" y1="172.70" x2="286.62" y2="173.70" stroke="#3a3a3a" stroke-width="0.4"/>
<line x1="303.18" y1="194.60" x2="303.18" y2="193.60" stroke="#3a3a3a" stroke-width="0.4"/>
<line x1="303.18" y1="172.70" x2="303.18" y2="173.70" stroke="#3a3a3a" stroke-width="0.4"/>
<line x1="319.74" y1="194.60" x2="319.74" y2="193.60" stroke="#3a3a3a" stroke-width="0.4"/>
<line x1="319.74" y1="172.70" x2="319.74" y2="173.70" stroke="#3a3a3a" stroke-width="0.4"/>
<line x1="336.30" y1="194.60" x2="336.30" y2="193.60" stroke="#3a3a3a" stroke-width="0.4"/>
<line x1="336.30" y1="172.70" x2="336.30" y2="173.70" stroke="#3a3a3a" stroke-width="0.4"/>
<text x="253.50" y="199.40" font-size="4.6" fill="#222" stroke="#222" stroke-width="0.08" text-anchor="middle">0</text>
<text x="270.06" y="199.40" font-size="4.6" fill="#222" stroke="#222" stroke-width="0.08" text-anchor="middle">1</text>
<text x="286.62" y="199.40" font-size="4.6" fill="#222" stroke="#222" stroke-width="0.08" text-anchor="middle">2</text>
<text x="303.18" y="199.40" font-size="4.6" fill="#222" stroke="#222" stroke-width="0.08" text-anchor="middle">3</text>
<text x="319.74" y="199.40" font-size="4.6" fill="#222" stroke="#222" stroke-width="0.08" text-anchor="middle">4</text>
<text x="336.30" y="199.40" font-size="4.6" fill="#222" stroke="#222" stroke-width="0.08" text-anchor="middle">5</text>
<text x="295.70" y="205.40" font-size="5.5" fill="#222" stroke="#222" stroke-width="0.08" text-anchor="middle">Time (ms)</text>
<text x="254.30" y="172.30" font-size="5.3" fill="#222" stroke="#222" stroke-width="0.15" text-anchor="start"><tspan font-size="3.8">×</tspan>10<tspan font-size="3.2" dy="-2.4">5</tspan></text>
<text x="251.20" y="175.00" font-size="4.0" fill="#333" stroke="#333" stroke-width="0.15" text-anchor="middle">1</text>
<text x="251.20" y="185.00" font-size="4.0" fill="#333" stroke="#333" stroke-width="0.15" text-anchor="middle">0</text>
<text x="250.60" y="195.60" font-size="4.0" fill="#333" stroke="#333" stroke-width="0.15" text-anchor="middle">-1</text>
<line x1="363.00" y1="177.40" x2="445.60" y2="177.40" stroke="#3cc8c8" stroke-width="1.0"/>
<line x1="372.00" y1="177.40" x2="372.00" y2="193.20" stroke="#3cc8c8" stroke-width="0.9"/>
<line x1="405.20" y1="177.40" x2="405.20" y2="189.20" stroke="#3cc8c8" stroke-width="0.9"/>
<line x1="420.70" y1="177.40" x2="420.70" y2="186.00" stroke="#3cc8c8" stroke-width="0.9"/>
<line x1="438.30" y1="177.40" x2="438.30" y2="193.20" stroke="#3cc8c8" stroke-width="0.9"/>
<rect x="362.60" y="172.70" width="83.40" height="21.90" fill="none" stroke="#3a3a3a" stroke-width="0.9"/>
<line x1="362.60" y1="194.60" x2="362.60" y2="193.60" stroke="#3a3a3a" stroke-width="0.4"/>
<line x1="362.60" y1="172.70" x2="362.60" y2="173.70" stroke="#3a3a3a" stroke-width="0.4"/>
<line x1="379.28" y1="194.60" x2="379.28" y2="193.60" stroke="#3a3a3a" stroke-width="0.4"/>
<line x1="379.28" y1="172.70" x2="379.28" y2="173.70" stroke="#3a3a3a" stroke-width="0.4"/>
<line x1="395.96" y1="194.60" x2="395.96" y2="193.60" stroke="#3a3a3a" stroke-width="0.4"/>
<line x1="395.96" y1="172.70" x2="395.96" y2="173.70" stroke="#3a3a3a" stroke-width="0.4"/>
<line x1="412.64" y1="194.60" x2="412.64" y2="193.60" stroke="#3a3a3a" stroke-width="0.4"/>
<line x1="412.64" y1="172.70" x2="412.64" y2="173.70" stroke="#3a3a3a" stroke-width="0.4"/>
<line x1="429.32" y1="194.60" x2="429.32" y2="193.60" stroke="#3a3a3a" stroke-width="0.4"/>
<line x1="429.32" y1="172.70" x2="429.32" y2="173.70" stroke="#3a3a3a" stroke-width="0.4"/>
<line x1="446.00" y1="194.60" x2="446.00" y2="193.60" stroke="#3a3a3a" stroke-width="0.4"/>
<line x1="446.00" y1="172.70" x2="446.00" y2="173.70" stroke="#3a3a3a" stroke-width="0.4"/>
<text x="362.60" y="199.40" font-size="4.6" fill="#222" stroke="#222" stroke-width="0.08" text-anchor="middle">0</text>
<text x="379.28" y="199.40" font-size="4.6" fill="#222" stroke="#222" stroke-width="0.08" text-anchor="middle">1</text>
<text x="395.96" y="199.40" font-size="4.6" fill="#222" stroke="#222" stroke-width="0.08" text-anchor="middle">2</text>
<text x="412.64" y="199.40" font-size="4.6" fill="#222" stroke="#222" stroke-width="0.08" text-anchor="middle">3</text>
<text x="429.32" y="199.40" font-size="4.6" fill="#222" stroke="#222" stroke-width="0.08" text-anchor="middle">4</text>
<text x="446.00" y="199.40" font-size="4.6" fill="#222" stroke="#222" stroke-width="0.08" text-anchor="middle">5</text>
<text x="405.10" y="205.40" font-size="5.5" fill="#222" stroke="#222" stroke-width="0.08" text-anchor="middle">Time (ms)</text>
<text x="363.40" y="172.30" font-size="5.3" fill="#222" stroke="#222" stroke-width="0.15" text-anchor="start"><tspan font-size="3.8">×</tspan>10<tspan font-size="3.2" dy="-2.4">6</tspan></text>
<text x="243.30" y="185.00" font-size="5.6" fill="#222" stroke="#222" stroke-width="0.15" text-anchor="middle" transform="rotate(-90 243.30 185.00)">Freq. (Hz)</text>
<text x="352.40" y="185.00" font-size="5.6" fill="#222" stroke="#222" stroke-width="0.15" text-anchor="middle" transform="rotate(-90 352.40 185.00)">Freq. (Hz)</text>
<text x="360.60" y="176.60" font-size="3.0" fill="#333" stroke="#333" stroke-width="0.15" text-anchor="middle" transform="rotate(-90 360.60 176.60)">0</text>
<text x="360.60" y="180.90" font-size="3.0" fill="#333" stroke="#333" stroke-width="0.15" text-anchor="middle" transform="rotate(-90 360.60 180.90)">-1</text>
<text x="360.60" y="185.20" font-size="3.0" fill="#333" stroke="#333" stroke-width="0.15" text-anchor="middle" transform="rotate(-90 360.60 185.20)">-2</text>
<text x="360.60" y="189.50" font-size="3.0" fill="#333" stroke="#333" stroke-width="0.15" text-anchor="middle" transform="rotate(-90 360.60 189.50)">-3</text>
<text x="360.60" y="193.80" font-size="3.0" fill="#333" stroke="#333" stroke-width="0.15" text-anchor="middle" transform="rotate(-90 360.60 193.80)">-4</text>
<line x1="386.90" y1="72.00" x2="386.90" y2="185.00" stroke="#e8303a" stroke-width="0.9" stroke-dasharray="1.1 1.1"/>
<circle cx="387.0" cy="146.5" r="1.9" fill="#a8101e"/>
<circle cx="386.9" cy="115.4" r="1.5" fill="#e8202c"/>
<circle cx="387.0" cy="186.8" r="2.2" fill="#d8282e"/>
</svg>
</body></html>
